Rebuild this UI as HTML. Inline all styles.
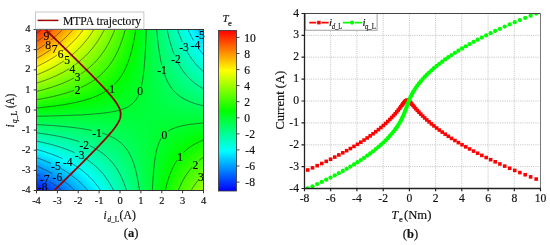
<!DOCTYPE html><html><head><meta charset="utf-8"><style>html,body{margin:0;padding:0;background:#fff;width:550px;height:245px;overflow:hidden}svg{display:block}text{stroke:#111;stroke-width:0.18px}</style></head><body><svg width="550" height="245" viewBox="0 0 550 245"><defs><linearGradient id="r29" gradientUnits="userSpaceOnUse" x1="36.5" x2="203.5" y1="0" y2="0"><stop offset="0.0000" stop-color="#ff1500"/><stop offset="0.2878" stop-color="#ffff00"/><stop offset="0.6013" stop-color="#00ff00"/><stop offset="0.9147" stop-color="#00ffff"/><stop offset="1.0000" stop-color="#00baff"/></linearGradient><linearGradient id="r30" gradientUnits="userSpaceOnUse" x1="36.5" x2="203.5" y1="0" y2="0"><stop offset="0.0000" stop-color="#ff1b00"/><stop offset="0.2835" stop-color="#ffff00"/><stop offset="0.6004" stop-color="#00ff00"/><stop offset="0.9174" stop-color="#00ffff"/><stop offset="1.0000" stop-color="#00bdff"/></linearGradient><linearGradient id="r31" gradientUnits="userSpaceOnUse" x1="36.5" x2="203.5" y1="0" y2="0"><stop offset="0.0000" stop-color="#ff2100"/><stop offset="0.2790" stop-color="#ffff00"/><stop offset="0.5996" stop-color="#00ff00"/><stop offset="0.9202" stop-color="#00ffff"/><stop offset="1.0000" stop-color="#00c0ff"/></linearGradient><linearGradient id="r32" gradientUnits="userSpaceOnUse" x1="36.5" x2="203.5" y1="0" y2="0"><stop offset="0.0000" stop-color="#ff2700"/><stop offset="0.2744" stop-color="#ffff00"/><stop offset="0.5987" stop-color="#00ff00"/><stop offset="0.9231" stop-color="#00ffff"/><stop offset="1.0000" stop-color="#00c3ff"/></linearGradient><linearGradient id="r33" gradientUnits="userSpaceOnUse" x1="36.5" x2="203.5" y1="0" y2="0"><stop offset="0.0000" stop-color="#ff2d00"/><stop offset="0.2697" stop-color="#ffff00"/><stop offset="0.5979" stop-color="#00ff00"/><stop offset="0.9260" stop-color="#00ffff"/><stop offset="1.0000" stop-color="#00c6ff"/></linearGradient><linearGradient id="r34" gradientUnits="userSpaceOnUse" x1="36.5" x2="203.5" y1="0" y2="0"><stop offset="0.0000" stop-color="#ff3400"/><stop offset="0.2649" stop-color="#ffff00"/><stop offset="0.5970" stop-color="#00ff00"/><stop offset="0.9290" stop-color="#00ffff"/><stop offset="1.0000" stop-color="#00c9ff"/></linearGradient><linearGradient id="r35" gradientUnits="userSpaceOnUse" x1="36.5" x2="203.5" y1="0" y2="0"><stop offset="0.0000" stop-color="#ff3a00"/><stop offset="0.2600" stop-color="#ffff00"/><stop offset="0.5960" stop-color="#00ff00"/><stop offset="0.9321" stop-color="#00ffff"/><stop offset="1.0000" stop-color="#00cbff"/></linearGradient><linearGradient id="r36" gradientUnits="userSpaceOnUse" x1="36.5" x2="203.5" y1="0" y2="0"><stop offset="0.0000" stop-color="#ff4000"/><stop offset="0.2549" stop-color="#ffff00"/><stop offset="0.5951" stop-color="#00ff00"/><stop offset="0.9353" stop-color="#00ffff"/><stop offset="1.0000" stop-color="#00ceff"/></linearGradient><linearGradient id="r37" gradientUnits="userSpaceOnUse" x1="36.5" x2="203.5" y1="0" y2="0"><stop offset="0.0000" stop-color="#ff4600"/><stop offset="0.2497" stop-color="#ffff00"/><stop offset="0.5941" stop-color="#00ff00"/><stop offset="0.9385" stop-color="#00ffff"/><stop offset="1.0000" stop-color="#00d1ff"/></linearGradient><linearGradient id="r38" gradientUnits="userSpaceOnUse" x1="36.5" x2="203.5" y1="0" y2="0"><stop offset="0.0000" stop-color="#ff4c00"/><stop offset="0.2444" stop-color="#ffff00"/><stop offset="0.5931" stop-color="#00ff00"/><stop offset="0.9418" stop-color="#00ffff"/><stop offset="1.0000" stop-color="#00d4ff"/></linearGradient><linearGradient id="r39" gradientUnits="userSpaceOnUse" x1="36.5" x2="203.5" y1="0" y2="0"><stop offset="0.0000" stop-color="#ff5200"/><stop offset="0.2390" stop-color="#ffff00"/><stop offset="0.5921" stop-color="#00ff00"/><stop offset="0.9452" stop-color="#00ffff"/><stop offset="1.0000" stop-color="#00d7ff"/></linearGradient><linearGradient id="r40" gradientUnits="userSpaceOnUse" x1="36.5" x2="203.5" y1="0" y2="0"><stop offset="0.0000" stop-color="#ff5900"/><stop offset="0.2334" stop-color="#ffff00"/><stop offset="0.5911" stop-color="#00ff00"/><stop offset="0.9487" stop-color="#00ffff"/><stop offset="1.0000" stop-color="#00daff"/></linearGradient><linearGradient id="r41" gradientUnits="userSpaceOnUse" x1="36.5" x2="203.5" y1="0" y2="0"><stop offset="0.0000" stop-color="#ff5f00"/><stop offset="0.2277" stop-color="#ffff00"/><stop offset="0.5900" stop-color="#00ff00"/><stop offset="0.9523" stop-color="#00ffff"/><stop offset="1.0000" stop-color="#00ddff"/></linearGradient><linearGradient id="r42" gradientUnits="userSpaceOnUse" x1="36.5" x2="203.5" y1="0" y2="0"><stop offset="0.0000" stop-color="#ff6500"/><stop offset="0.2218" stop-color="#ffff00"/><stop offset="0.5889" stop-color="#00ff00"/><stop offset="0.9560" stop-color="#00ffff"/><stop offset="1.0000" stop-color="#00e0ff"/></linearGradient><linearGradient id="r43" gradientUnits="userSpaceOnUse" x1="36.5" x2="203.5" y1="0" y2="0"><stop offset="0.0000" stop-color="#ff6b00"/><stop offset="0.2158" stop-color="#ffff00"/><stop offset="0.5878" stop-color="#00ff00"/><stop offset="0.9597" stop-color="#00ffff"/><stop offset="1.0000" stop-color="#00e3ff"/></linearGradient><linearGradient id="r44" gradientUnits="userSpaceOnUse" x1="36.5" x2="203.5" y1="0" y2="0"><stop offset="0.0000" stop-color="#ff7100"/><stop offset="0.2096" stop-color="#ffff00"/><stop offset="0.5866" stop-color="#00ff00"/><stop offset="0.9636" stop-color="#00ffff"/><stop offset="1.0000" stop-color="#00e6ff"/></linearGradient><linearGradient id="r45" gradientUnits="userSpaceOnUse" x1="36.5" x2="203.5" y1="0" y2="0"><stop offset="0.0000" stop-color="#ff7700"/><stop offset="0.2033" stop-color="#ffff00"/><stop offset="0.5854" stop-color="#00ff00"/><stop offset="0.9676" stop-color="#00ffff"/><stop offset="1.0000" stop-color="#00e9ff"/></linearGradient><linearGradient id="r46" gradientUnits="userSpaceOnUse" x1="36.5" x2="203.5" y1="0" y2="0"><stop offset="0.0000" stop-color="#ff7e00"/><stop offset="0.1967" stop-color="#ffff00"/><stop offset="0.5842" stop-color="#00ff00"/><stop offset="0.9717" stop-color="#00ffff"/><stop offset="1.0000" stop-color="#00ecff"/></linearGradient><linearGradient id="r47" gradientUnits="userSpaceOnUse" x1="36.5" x2="203.5" y1="0" y2="0"><stop offset="0.0000" stop-color="#ff8400"/><stop offset="0.1900" stop-color="#ffff00"/><stop offset="0.5829" stop-color="#00ff00"/><stop offset="0.9759" stop-color="#00ffff"/><stop offset="1.0000" stop-color="#00efff"/></linearGradient><linearGradient id="r48" gradientUnits="userSpaceOnUse" x1="36.5" x2="203.5" y1="0" y2="0"><stop offset="0.0000" stop-color="#ff8a00"/><stop offset="0.1831" stop-color="#ffff00"/><stop offset="0.5817" stop-color="#00ff00"/><stop offset="0.9802" stop-color="#00ffff"/><stop offset="1.0000" stop-color="#00f2ff"/></linearGradient><linearGradient id="r49" gradientUnits="userSpaceOnUse" x1="36.5" x2="203.5" y1="0" y2="0"><stop offset="0.0000" stop-color="#ff9000"/><stop offset="0.1760" stop-color="#ffff00"/><stop offset="0.5803" stop-color="#00ff00"/><stop offset="0.9846" stop-color="#00ffff"/><stop offset="1.0000" stop-color="#00f5ff"/></linearGradient><linearGradient id="r50" gradientUnits="userSpaceOnUse" x1="36.5" x2="203.5" y1="0" y2="0"><stop offset="0.0000" stop-color="#ff9600"/><stop offset="0.1687" stop-color="#ffff00"/><stop offset="0.5790" stop-color="#00ff00"/><stop offset="0.9892" stop-color="#00ffff"/><stop offset="1.0000" stop-color="#00f8ff"/></linearGradient><linearGradient id="r51" gradientUnits="userSpaceOnUse" x1="36.5" x2="203.5" y1="0" y2="0"><stop offset="0.0000" stop-color="#ff9c00"/><stop offset="0.1611" stop-color="#ffff00"/><stop offset="0.5775" stop-color="#00ff00"/><stop offset="0.9939" stop-color="#00ffff"/><stop offset="1.0000" stop-color="#00fbff"/></linearGradient><linearGradient id="r52" gradientUnits="userSpaceOnUse" x1="36.5" x2="203.5" y1="0" y2="0"><stop offset="0.0000" stop-color="#ffa200"/><stop offset="0.1534" stop-color="#ffff00"/><stop offset="0.5761" stop-color="#00ff00"/><stop offset="0.9988" stop-color="#00ffff"/><stop offset="1.0000" stop-color="#00feff"/></linearGradient><linearGradient id="r53" gradientUnits="userSpaceOnUse" x1="36.5" x2="203.5" y1="0" y2="0"><stop offset="0.0000" stop-color="#ffa900"/><stop offset="0.1454" stop-color="#ffff00"/><stop offset="0.5746" stop-color="#00ff00"/><stop offset="1.0000" stop-color="#00fffd"/></linearGradient><linearGradient id="r54" gradientUnits="userSpaceOnUse" x1="36.5" x2="203.5" y1="0" y2="0"><stop offset="0.0000" stop-color="#ffaf00"/><stop offset="0.1371" stop-color="#ffff00"/><stop offset="0.5730" stop-color="#00ff00"/><stop offset="1.0000" stop-color="#00fffa"/></linearGradient><linearGradient id="r55" gradientUnits="userSpaceOnUse" x1="36.5" x2="203.5" y1="0" y2="0"><stop offset="0.0000" stop-color="#ffb500"/><stop offset="0.1286" stop-color="#ffff00"/><stop offset="0.5714" stop-color="#00ff00"/><stop offset="1.0000" stop-color="#00fff7"/></linearGradient><linearGradient id="r56" gradientUnits="userSpaceOnUse" x1="36.5" x2="203.5" y1="0" y2="0"><stop offset="0.0000" stop-color="#ffbb00"/><stop offset="0.1198" stop-color="#ffff00"/><stop offset="0.5698" stop-color="#00ff00"/><stop offset="1.0000" stop-color="#00fff4"/></linearGradient><linearGradient id="r57" gradientUnits="userSpaceOnUse" x1="36.5" x2="203.5" y1="0" y2="0"><stop offset="0.0000" stop-color="#ffc100"/><stop offset="0.1107" stop-color="#ffff00"/><stop offset="0.5681" stop-color="#00ff00"/><stop offset="1.0000" stop-color="#00fff1"/></linearGradient><linearGradient id="r58" gradientUnits="userSpaceOnUse" x1="36.5" x2="203.5" y1="0" y2="0"><stop offset="0.0000" stop-color="#ffc700"/><stop offset="0.1013" stop-color="#ffff00"/><stop offset="0.5663" stop-color="#00ff00"/><stop offset="1.0000" stop-color="#00ffee"/></linearGradient><linearGradient id="r59" gradientUnits="userSpaceOnUse" x1="36.5" x2="203.5" y1="0" y2="0"><stop offset="0.0000" stop-color="#ffce00"/><stop offset="0.0916" stop-color="#ffff00"/><stop offset="0.5645" stop-color="#00ff00"/><stop offset="1.0000" stop-color="#00ffeb"/></linearGradient><linearGradient id="r60" gradientUnits="userSpaceOnUse" x1="36.5" x2="203.5" y1="0" y2="0"><stop offset="0.0000" stop-color="#ffd400"/><stop offset="0.0816" stop-color="#ffff00"/><stop offset="0.5626" stop-color="#00ff00"/><stop offset="1.0000" stop-color="#00ffe8"/></linearGradient><linearGradient id="r61" gradientUnits="userSpaceOnUse" x1="36.5" x2="203.5" y1="0" y2="0"><stop offset="0.0000" stop-color="#ffda00"/><stop offset="0.0712" stop-color="#ffff00"/><stop offset="0.5607" stop-color="#00ff00"/><stop offset="1.0000" stop-color="#00ffe5"/></linearGradient><linearGradient id="r62" gradientUnits="userSpaceOnUse" x1="36.5" x2="203.5" y1="0" y2="0"><stop offset="0.0000" stop-color="#ffe000"/><stop offset="0.0604" stop-color="#ffff00"/><stop offset="0.5587" stop-color="#00ff00"/><stop offset="1.0000" stop-color="#00ffe2"/></linearGradient><linearGradient id="r63" gradientUnits="userSpaceOnUse" x1="36.5" x2="203.5" y1="0" y2="0"><stop offset="0.0000" stop-color="#ffe600"/><stop offset="0.0493" stop-color="#ffff00"/><stop offset="0.5566" stop-color="#00ff00"/><stop offset="1.0000" stop-color="#00ffdf"/></linearGradient><linearGradient id="r64" gradientUnits="userSpaceOnUse" x1="36.5" x2="203.5" y1="0" y2="0"><stop offset="0.0000" stop-color="#ffec00"/><stop offset="0.0377" stop-color="#ffff00"/><stop offset="0.5544" stop-color="#00ff00"/><stop offset="1.0000" stop-color="#00ffdc"/></linearGradient><linearGradient id="r65" gradientUnits="userSpaceOnUse" x1="36.5" x2="203.5" y1="0" y2="0"><stop offset="0.0000" stop-color="#fff300"/><stop offset="0.0257" stop-color="#ffff00"/><stop offset="0.5522" stop-color="#00ff00"/><stop offset="1.0000" stop-color="#00ffd9"/></linearGradient><linearGradient id="r66" gradientUnits="userSpaceOnUse" x1="36.5" x2="203.5" y1="0" y2="0"><stop offset="0.0000" stop-color="#fff900"/><stop offset="0.0132" stop-color="#ffff00"/><stop offset="0.5499" stop-color="#00ff00"/><stop offset="1.0000" stop-color="#00ffd6"/></linearGradient><linearGradient id="r67" gradientUnits="userSpaceOnUse" x1="36.5" x2="203.5" y1="0" y2="0"><stop offset="0.0000" stop-color="#ffff00"/><stop offset="0.0003" stop-color="#ffff00"/><stop offset="0.5474" stop-color="#00ff00"/><stop offset="1.0000" stop-color="#00ffd3"/></linearGradient><linearGradient id="r68" gradientUnits="userSpaceOnUse" x1="36.5" x2="203.5" y1="0" y2="0"><stop offset="0.0000" stop-color="#f9ff00"/><stop offset="0.5449" stop-color="#00ff00"/><stop offset="1.0000" stop-color="#00ffd0"/></linearGradient><linearGradient id="r69" gradientUnits="userSpaceOnUse" x1="36.5" x2="203.5" y1="0" y2="0"><stop offset="0.0000" stop-color="#f3ff00"/><stop offset="0.5423" stop-color="#00ff00"/><stop offset="1.0000" stop-color="#00ffcd"/></linearGradient><linearGradient id="r70" gradientUnits="userSpaceOnUse" x1="36.5" x2="203.5" y1="0" y2="0"><stop offset="0.0000" stop-color="#edff00"/><stop offset="0.5395" stop-color="#00ff00"/><stop offset="1.0000" stop-color="#00ffca"/></linearGradient><linearGradient id="r71" gradientUnits="userSpaceOnUse" x1="36.5" x2="203.5" y1="0" y2="0"><stop offset="0.0000" stop-color="#e6ff00"/><stop offset="0.5367" stop-color="#00ff00"/><stop offset="1.0000" stop-color="#00ffc7"/></linearGradient><linearGradient id="r72" gradientUnits="userSpaceOnUse" x1="36.5" x2="203.5" y1="0" y2="0"><stop offset="0.0000" stop-color="#e0ff00"/><stop offset="0.5337" stop-color="#00ff00"/><stop offset="1.0000" stop-color="#00ffc4"/></linearGradient><linearGradient id="r73" gradientUnits="userSpaceOnUse" x1="36.5" x2="203.5" y1="0" y2="0"><stop offset="0.0000" stop-color="#daff00"/><stop offset="0.5306" stop-color="#00ff00"/><stop offset="1.0000" stop-color="#00ffc1"/></linearGradient><linearGradient id="r74" gradientUnits="userSpaceOnUse" x1="36.5" x2="203.5" y1="0" y2="0"><stop offset="0.0000" stop-color="#d4ff00"/><stop offset="0.5274" stop-color="#00ff00"/><stop offset="1.0000" stop-color="#00ffbe"/></linearGradient><linearGradient id="r75" gradientUnits="userSpaceOnUse" x1="36.5" x2="203.5" y1="0" y2="0"><stop offset="0.0000" stop-color="#ceff00"/><stop offset="0.5240" stop-color="#00ff00"/><stop offset="1.0000" stop-color="#00ffbb"/></linearGradient><linearGradient id="r76" gradientUnits="userSpaceOnUse" x1="36.5" x2="203.5" y1="0" y2="0"><stop offset="0.0000" stop-color="#c8ff00"/><stop offset="0.5204" stop-color="#00ff00"/><stop offset="1.0000" stop-color="#00ffb8"/></linearGradient><linearGradient id="r77" gradientUnits="userSpaceOnUse" x1="36.5" x2="203.5" y1="0" y2="0"><stop offset="0.0000" stop-color="#c2ff00"/><stop offset="0.5167" stop-color="#00ff00"/><stop offset="1.0000" stop-color="#00ffb5"/></linearGradient><linearGradient id="r78" gradientUnits="userSpaceOnUse" x1="36.5" x2="203.5" y1="0" y2="0"><stop offset="0.0000" stop-color="#bbff00"/><stop offset="0.5127" stop-color="#00ff00"/><stop offset="1.0000" stop-color="#00ffb2"/></linearGradient><linearGradient id="r79" gradientUnits="userSpaceOnUse" x1="36.5" x2="203.5" y1="0" y2="0"><stop offset="0.0000" stop-color="#b5ff00"/><stop offset="0.5086" stop-color="#00ff00"/><stop offset="1.0000" stop-color="#00ffaf"/></linearGradient><linearGradient id="r80" gradientUnits="userSpaceOnUse" x1="36.5" x2="203.5" y1="0" y2="0"><stop offset="0.0000" stop-color="#afff00"/><stop offset="0.5043" stop-color="#00ff00"/><stop offset="1.0000" stop-color="#00ffac"/></linearGradient><linearGradient id="r81" gradientUnits="userSpaceOnUse" x1="36.5" x2="203.5" y1="0" y2="0"><stop offset="0.0000" stop-color="#a9ff00"/><stop offset="0.4997" stop-color="#00ff00"/><stop offset="1.0000" stop-color="#00ffa9"/></linearGradient><linearGradient id="r82" gradientUnits="userSpaceOnUse" x1="36.5" x2="203.5" y1="0" y2="0"><stop offset="0.0000" stop-color="#a3ff00"/><stop offset="0.4949" stop-color="#00ff00"/><stop offset="1.0000" stop-color="#00ffa6"/></linearGradient><linearGradient id="r83" gradientUnits="userSpaceOnUse" x1="36.5" x2="203.5" y1="0" y2="0"><stop offset="0.0000" stop-color="#9dff00"/><stop offset="0.4897" stop-color="#00ff00"/><stop offset="1.0000" stop-color="#00ffa3"/></linearGradient><linearGradient id="r84" gradientUnits="userSpaceOnUse" x1="36.5" x2="203.5" y1="0" y2="0"><stop offset="0.0000" stop-color="#96ff00"/><stop offset="0.4843" stop-color="#00ff00"/><stop offset="1.0000" stop-color="#00ffa0"/></linearGradient><linearGradient id="r85" gradientUnits="userSpaceOnUse" x1="36.5" x2="203.5" y1="0" y2="0"><stop offset="0.0000" stop-color="#90ff00"/><stop offset="0.4786" stop-color="#00ff00"/><stop offset="1.0000" stop-color="#00ff9d"/></linearGradient><linearGradient id="r86" gradientUnits="userSpaceOnUse" x1="36.5" x2="203.5" y1="0" y2="0"><stop offset="0.0000" stop-color="#8aff00"/><stop offset="0.4725" stop-color="#00ff00"/><stop offset="1.0000" stop-color="#00ff9a"/></linearGradient><linearGradient id="r87" gradientUnits="userSpaceOnUse" x1="36.5" x2="203.5" y1="0" y2="0"><stop offset="0.0000" stop-color="#84ff00"/><stop offset="0.4660" stop-color="#00ff00"/><stop offset="1.0000" stop-color="#00ff97"/></linearGradient><linearGradient id="r88" gradientUnits="userSpaceOnUse" x1="36.5" x2="203.5" y1="0" y2="0"><stop offset="0.0000" stop-color="#7eff00"/><stop offset="0.4591" stop-color="#00ff00"/><stop offset="1.0000" stop-color="#00ff94"/></linearGradient><linearGradient id="r89" gradientUnits="userSpaceOnUse" x1="36.5" x2="203.5" y1="0" y2="0"><stop offset="0.0000" stop-color="#78ff00"/><stop offset="0.4517" stop-color="#00ff00"/><stop offset="1.0000" stop-color="#00ff91"/></linearGradient><linearGradient id="r90" gradientUnits="userSpaceOnUse" x1="36.5" x2="203.5" y1="0" y2="0"><stop offset="0.0000" stop-color="#71ff00"/><stop offset="0.4438" stop-color="#00ff00"/><stop offset="1.0000" stop-color="#00ff8e"/></linearGradient><linearGradient id="r91" gradientUnits="userSpaceOnUse" x1="36.5" x2="203.5" y1="0" y2="0"><stop offset="0.0000" stop-color="#6bff00"/><stop offset="0.4352" stop-color="#00ff00"/><stop offset="1.0000" stop-color="#00ff8b"/></linearGradient><linearGradient id="r92" gradientUnits="userSpaceOnUse" x1="36.5" x2="203.5" y1="0" y2="0"><stop offset="0.0000" stop-color="#65ff00"/><stop offset="0.4261" stop-color="#00ff00"/><stop offset="1.0000" stop-color="#00ff88"/></linearGradient><linearGradient id="r93" gradientUnits="userSpaceOnUse" x1="36.5" x2="203.5" y1="0" y2="0"><stop offset="0.0000" stop-color="#5fff00"/><stop offset="0.4161" stop-color="#00ff00"/><stop offset="1.0000" stop-color="#00ff85"/></linearGradient><linearGradient id="r94" gradientUnits="userSpaceOnUse" x1="36.5" x2="203.5" y1="0" y2="0"><stop offset="0.0000" stop-color="#59ff00"/><stop offset="0.4054" stop-color="#00ff00"/><stop offset="1.0000" stop-color="#00ff82"/></linearGradient><linearGradient id="r95" gradientUnits="userSpaceOnUse" x1="36.5" x2="203.5" y1="0" y2="0"><stop offset="0.0000" stop-color="#53ff00"/><stop offset="0.3937" stop-color="#00ff00"/><stop offset="1.0000" stop-color="#00ff7f"/></linearGradient><linearGradient id="r96" gradientUnits="userSpaceOnUse" x1="36.5" x2="203.5" y1="0" y2="0"><stop offset="0.0000" stop-color="#4dff00"/><stop offset="0.3810" stop-color="#00ff00"/><stop offset="1.0000" stop-color="#00ff7c"/></linearGradient><linearGradient id="r97" gradientUnits="userSpaceOnUse" x1="36.5" x2="203.5" y1="0" y2="0"><stop offset="0.0000" stop-color="#46ff00"/><stop offset="0.3670" stop-color="#00ff00"/><stop offset="1.0000" stop-color="#00ff79"/></linearGradient><linearGradient id="r98" gradientUnits="userSpaceOnUse" x1="36.5" x2="203.5" y1="0" y2="0"><stop offset="0.0000" stop-color="#40ff00"/><stop offset="0.3517" stop-color="#00ff00"/><stop offset="1.0000" stop-color="#00ff76"/></linearGradient><linearGradient id="r99" gradientUnits="userSpaceOnUse" x1="36.5" x2="203.5" y1="0" y2="0"><stop offset="0.0000" stop-color="#3aff00"/><stop offset="0.3347" stop-color="#00ff00"/><stop offset="1.0000" stop-color="#00ff73"/></linearGradient><linearGradient id="r100" gradientUnits="userSpaceOnUse" x1="36.5" x2="203.5" y1="0" y2="0"><stop offset="0.0000" stop-color="#34ff00"/><stop offset="0.3158" stop-color="#00ff00"/><stop offset="1.0000" stop-color="#00ff70"/></linearGradient><linearGradient id="r101" gradientUnits="userSpaceOnUse" x1="36.5" x2="203.5" y1="0" y2="0"><stop offset="0.0000" stop-color="#2eff00"/><stop offset="0.2947" stop-color="#00ff00"/><stop offset="1.0000" stop-color="#00ff6d"/></linearGradient><linearGradient id="r102" gradientUnits="userSpaceOnUse" x1="36.5" x2="203.5" y1="0" y2="0"><stop offset="0.0000" stop-color="#28ff00"/><stop offset="0.2710" stop-color="#00ff00"/><stop offset="1.0000" stop-color="#00ff6a"/></linearGradient><linearGradient id="r103" gradientUnits="userSpaceOnUse" x1="36.5" x2="203.5" y1="0" y2="0"><stop offset="0.0000" stop-color="#21ff00"/><stop offset="0.2441" stop-color="#00ff00"/><stop offset="1.0000" stop-color="#00ff67"/></linearGradient><linearGradient id="r104" gradientUnits="userSpaceOnUse" x1="36.5" x2="203.5" y1="0" y2="0"><stop offset="0.0000" stop-color="#1bff00"/><stop offset="0.2133" stop-color="#00ff00"/><stop offset="1.0000" stop-color="#00ff64"/></linearGradient><linearGradient id="r105" gradientUnits="userSpaceOnUse" x1="36.5" x2="203.5" y1="0" y2="0"><stop offset="0.0000" stop-color="#15ff00"/><stop offset="0.1778" stop-color="#00ff00"/><stop offset="1.0000" stop-color="#00ff61"/></linearGradient><linearGradient id="r106" gradientUnits="userSpaceOnUse" x1="36.5" x2="203.5" y1="0" y2="0"><stop offset="0.0000" stop-color="#0fff00"/><stop offset="0.1363" stop-color="#00ff00"/><stop offset="1.0000" stop-color="#00ff5e"/></linearGradient><linearGradient id="r107" gradientUnits="userSpaceOnUse" x1="36.5" x2="203.5" y1="0" y2="0"><stop offset="0.0000" stop-color="#09ff00"/><stop offset="0.0873" stop-color="#00ff00"/><stop offset="1.0000" stop-color="#00ff5b"/></linearGradient><linearGradient id="r108" gradientUnits="userSpaceOnUse" x1="36.5" x2="203.5" y1="0" y2="0"><stop offset="0.0000" stop-color="#03ff00"/><stop offset="0.0284" stop-color="#00ff00"/><stop offset="1.0000" stop-color="#00ff58"/></linearGradient><linearGradient id="r109" gradientUnits="userSpaceOnUse" x1="36.5" x2="203.5" y1="0" y2="0"><stop offset="0.0000" stop-color="#00ff04"/><stop offset="1.0000" stop-color="#00ff55"/></linearGradient><linearGradient id="r110" gradientUnits="userSpaceOnUse" x1="36.5" x2="203.5" y1="0" y2="0"><stop offset="0.0000" stop-color="#00ff0a"/><stop offset="1.0000" stop-color="#00ff52"/></linearGradient><linearGradient id="r111" gradientUnits="userSpaceOnUse" x1="36.5" x2="203.5" y1="0" y2="0"><stop offset="0.0000" stop-color="#00ff10"/><stop offset="1.0000" stop-color="#00ff4f"/></linearGradient><linearGradient id="r112" gradientUnits="userSpaceOnUse" x1="36.5" x2="203.5" y1="0" y2="0"><stop offset="0.0000" stop-color="#00ff16"/><stop offset="1.0000" stop-color="#00ff4d"/></linearGradient><linearGradient id="r113" gradientUnits="userSpaceOnUse" x1="36.5" x2="203.5" y1="0" y2="0"><stop offset="0.0000" stop-color="#00ff1c"/><stop offset="1.0000" stop-color="#00ff4a"/></linearGradient><linearGradient id="r114" gradientUnits="userSpaceOnUse" x1="36.5" x2="203.5" y1="0" y2="0"><stop offset="0.0000" stop-color="#00ff22"/><stop offset="1.0000" stop-color="#00ff47"/></linearGradient><linearGradient id="r115" gradientUnits="userSpaceOnUse" x1="36.5" x2="203.5" y1="0" y2="0"><stop offset="0.0000" stop-color="#00ff29"/><stop offset="1.0000" stop-color="#00ff44"/></linearGradient><linearGradient id="r116" gradientUnits="userSpaceOnUse" x1="36.5" x2="203.5" y1="0" y2="0"><stop offset="0.0000" stop-color="#00ff2f"/><stop offset="1.0000" stop-color="#00ff41"/></linearGradient><linearGradient id="r117" gradientUnits="userSpaceOnUse" x1="36.5" x2="203.5" y1="0" y2="0"><stop offset="0.0000" stop-color="#00ff35"/><stop offset="1.0000" stop-color="#00ff3e"/></linearGradient><linearGradient id="r118" gradientUnits="userSpaceOnUse" x1="36.5" x2="203.5" y1="0" y2="0"><stop offset="0.0000" stop-color="#00ff3b"/><stop offset="1.0000" stop-color="#00ff3b"/></linearGradient><linearGradient id="r119" gradientUnits="userSpaceOnUse" x1="36.5" x2="203.5" y1="0" y2="0"><stop offset="0.0000" stop-color="#00ff41"/><stop offset="1.0000" stop-color="#00ff38"/></linearGradient><linearGradient id="r120" gradientUnits="userSpaceOnUse" x1="36.5" x2="203.5" y1="0" y2="0"><stop offset="0.0000" stop-color="#00ff47"/><stop offset="1.0000" stop-color="#00ff35"/></linearGradient><linearGradient id="r121" gradientUnits="userSpaceOnUse" x1="36.5" x2="203.5" y1="0" y2="0"><stop offset="0.0000" stop-color="#00ff4d"/><stop offset="1.0000" stop-color="#00ff32"/></linearGradient><linearGradient id="r122" gradientUnits="userSpaceOnUse" x1="36.5" x2="203.5" y1="0" y2="0"><stop offset="0.0000" stop-color="#00ff54"/><stop offset="1.0000" stop-color="#00ff2f"/></linearGradient><linearGradient id="r123" gradientUnits="userSpaceOnUse" x1="36.5" x2="203.5" y1="0" y2="0"><stop offset="0.0000" stop-color="#00ff5a"/><stop offset="1.0000" stop-color="#00ff2c"/></linearGradient><linearGradient id="r124" gradientUnits="userSpaceOnUse" x1="36.5" x2="203.5" y1="0" y2="0"><stop offset="0.0000" stop-color="#00ff60"/><stop offset="1.0000" stop-color="#00ff29"/></linearGradient><linearGradient id="r125" gradientUnits="userSpaceOnUse" x1="36.5" x2="203.5" y1="0" y2="0"><stop offset="0.0000" stop-color="#00ff66"/><stop offset="1.0000" stop-color="#00ff26"/></linearGradient><linearGradient id="r126" gradientUnits="userSpaceOnUse" x1="36.5" x2="203.5" y1="0" y2="0"><stop offset="0.0000" stop-color="#00ff6c"/><stop offset="1.0000" stop-color="#00ff23"/></linearGradient><linearGradient id="r127" gradientUnits="userSpaceOnUse" x1="36.5" x2="203.5" y1="0" y2="0"><stop offset="0.0000" stop-color="#00ff72"/><stop offset="1.0000" stop-color="#00ff20"/></linearGradient><linearGradient id="r128" gradientUnits="userSpaceOnUse" x1="36.5" x2="203.5" y1="0" y2="0"><stop offset="0.0000" stop-color="#00ff79"/><stop offset="1.0000" stop-color="#00ff1d"/></linearGradient><linearGradient id="r129" gradientUnits="userSpaceOnUse" x1="36.5" x2="203.5" y1="0" y2="0"><stop offset="0.0000" stop-color="#00ff7f"/><stop offset="1.0000" stop-color="#00ff1a"/></linearGradient><linearGradient id="r130" gradientUnits="userSpaceOnUse" x1="36.5" x2="203.5" y1="0" y2="0"><stop offset="0.0000" stop-color="#00ff85"/><stop offset="1.0000" stop-color="#00ff17"/></linearGradient><linearGradient id="r131" gradientUnits="userSpaceOnUse" x1="36.5" x2="203.5" y1="0" y2="0"><stop offset="0.0000" stop-color="#00ff8b"/><stop offset="1.0000" stop-color="#00ff14"/></linearGradient><linearGradient id="r132" gradientUnits="userSpaceOnUse" x1="36.5" x2="203.5" y1="0" y2="0"><stop offset="0.0000" stop-color="#00ff91"/><stop offset="1.0000" stop-color="#00ff11"/></linearGradient><linearGradient id="r133" gradientUnits="userSpaceOnUse" x1="36.5" x2="203.5" y1="0" y2="0"><stop offset="0.0000" stop-color="#00ff97"/><stop offset="1.0000" stop-color="#00ff0e"/></linearGradient><linearGradient id="r134" gradientUnits="userSpaceOnUse" x1="36.5" x2="203.5" y1="0" y2="0"><stop offset="0.0000" stop-color="#00ff9e"/><stop offset="1.0000" stop-color="#00ff0b"/></linearGradient><linearGradient id="r135" gradientUnits="userSpaceOnUse" x1="36.5" x2="203.5" y1="0" y2="0"><stop offset="0.0000" stop-color="#00ffa4"/><stop offset="1.0000" stop-color="#00ff08"/></linearGradient><linearGradient id="r136" gradientUnits="userSpaceOnUse" x1="36.5" x2="203.5" y1="0" y2="0"><stop offset="0.0000" stop-color="#00ffaa"/><stop offset="1.0000" stop-color="#00ff05"/></linearGradient><linearGradient id="r137" gradientUnits="userSpaceOnUse" x1="36.5" x2="203.5" y1="0" y2="0"><stop offset="0.0000" stop-color="#00ffb0"/><stop offset="1.0000" stop-color="#00ff02"/></linearGradient><linearGradient id="r138" gradientUnits="userSpaceOnUse" x1="36.5" x2="203.5" y1="0" y2="0"><stop offset="0.0000" stop-color="#00ffb6"/><stop offset="0.9937" stop-color="#00ff00"/><stop offset="1.0000" stop-color="#01ff00"/></linearGradient><linearGradient id="r139" gradientUnits="userSpaceOnUse" x1="36.5" x2="203.5" y1="0" y2="0"><stop offset="0.0000" stop-color="#00ffbc"/><stop offset="0.9785" stop-color="#00ff00"/><stop offset="1.0000" stop-color="#04ff00"/></linearGradient><linearGradient id="r140" gradientUnits="userSpaceOnUse" x1="36.5" x2="203.5" y1="0" y2="0"><stop offset="0.0000" stop-color="#00ffc3"/><stop offset="0.9647" stop-color="#00ff00"/><stop offset="1.0000" stop-color="#07ff00"/></linearGradient><linearGradient id="r141" gradientUnits="userSpaceOnUse" x1="36.5" x2="203.5" y1="0" y2="0"><stop offset="0.0000" stop-color="#00ffc9"/><stop offset="0.9520" stop-color="#00ff00"/><stop offset="1.0000" stop-color="#0aff00"/></linearGradient><linearGradient id="r142" gradientUnits="userSpaceOnUse" x1="36.5" x2="203.5" y1="0" y2="0"><stop offset="0.0000" stop-color="#00ffcf"/><stop offset="0.9404" stop-color="#00ff00"/><stop offset="1.0000" stop-color="#0dff00"/></linearGradient><linearGradient id="r143" gradientUnits="userSpaceOnUse" x1="36.5" x2="203.5" y1="0" y2="0"><stop offset="0.0000" stop-color="#00ffd5"/><stop offset="0.9298" stop-color="#00ff00"/><stop offset="1.0000" stop-color="#10ff00"/></linearGradient><linearGradient id="r144" gradientUnits="userSpaceOnUse" x1="36.5" x2="203.5" y1="0" y2="0"><stop offset="0.0000" stop-color="#00ffdb"/><stop offset="0.9199" stop-color="#00ff00"/><stop offset="1.0000" stop-color="#13ff00"/></linearGradient><linearGradient id="r145" gradientUnits="userSpaceOnUse" x1="36.5" x2="203.5" y1="0" y2="0"><stop offset="0.0000" stop-color="#00ffe1"/><stop offset="0.9108" stop-color="#00ff00"/><stop offset="1.0000" stop-color="#16ff00"/></linearGradient><linearGradient id="r146" gradientUnits="userSpaceOnUse" x1="36.5" x2="203.5" y1="0" y2="0"><stop offset="0.0000" stop-color="#00ffe7"/><stop offset="0.9024" stop-color="#00ff00"/><stop offset="1.0000" stop-color="#19ff00"/></linearGradient><linearGradient id="r147" gradientUnits="userSpaceOnUse" x1="36.5" x2="203.5" y1="0" y2="0"><stop offset="0.0000" stop-color="#00ffee"/><stop offset="0.8945" stop-color="#00ff00"/><stop offset="1.0000" stop-color="#1cff00"/></linearGradient><linearGradient id="r148" gradientUnits="userSpaceOnUse" x1="36.5" x2="203.5" y1="0" y2="0"><stop offset="0.0000" stop-color="#00fff4"/><stop offset="0.8871" stop-color="#00ff00"/><stop offset="1.0000" stop-color="#1fff00"/></linearGradient><linearGradient id="r149" gradientUnits="userSpaceOnUse" x1="36.5" x2="203.5" y1="0" y2="0"><stop offset="0.0000" stop-color="#00fffa"/><stop offset="0.8802" stop-color="#00ff00"/><stop offset="1.0000" stop-color="#22ff00"/></linearGradient><linearGradient id="r150" gradientUnits="userSpaceOnUse" x1="36.5" x2="203.5" y1="0" y2="0"><stop offset="0.0000" stop-color="#00feff"/><stop offset="0.0038" stop-color="#00ffff"/><stop offset="0.8738" stop-color="#00ff00"/><stop offset="1.0000" stop-color="#25ff00"/></linearGradient><linearGradient id="r151" gradientUnits="userSpaceOnUse" x1="36.5" x2="203.5" y1="0" y2="0"><stop offset="0.0000" stop-color="#00f8ff"/><stop offset="0.0241" stop-color="#00ffff"/><stop offset="0.8677" stop-color="#00ff00"/><stop offset="1.0000" stop-color="#28ff00"/></linearGradient><linearGradient id="r152" gradientUnits="userSpaceOnUse" x1="36.5" x2="203.5" y1="0" y2="0"><stop offset="0.0000" stop-color="#00f2ff"/><stop offset="0.0432" stop-color="#00ffff"/><stop offset="0.8620" stop-color="#00ff00"/><stop offset="1.0000" stop-color="#2bff00"/></linearGradient><linearGradient id="r153" gradientUnits="userSpaceOnUse" x1="36.5" x2="203.5" y1="0" y2="0"><stop offset="0.0000" stop-color="#00ebff"/><stop offset="0.0611" stop-color="#00ffff"/><stop offset="0.8566" stop-color="#00ff00"/><stop offset="1.0000" stop-color="#2eff00"/></linearGradient><linearGradient id="r154" gradientUnits="userSpaceOnUse" x1="36.5" x2="203.5" y1="0" y2="0"><stop offset="0.0000" stop-color="#00e5ff"/><stop offset="0.0781" stop-color="#00ffff"/><stop offset="0.8515" stop-color="#00ff00"/><stop offset="1.0000" stop-color="#31ff00"/></linearGradient><linearGradient id="r155" gradientUnits="userSpaceOnUse" x1="36.5" x2="203.5" y1="0" y2="0"><stop offset="0.0000" stop-color="#00dfff"/><stop offset="0.0942" stop-color="#00ffff"/><stop offset="0.8467" stop-color="#00ff00"/><stop offset="1.0000" stop-color="#34ff00"/></linearGradient><linearGradient id="r156" gradientUnits="userSpaceOnUse" x1="36.5" x2="203.5" y1="0" y2="0"><stop offset="0.0000" stop-color="#00d9ff"/><stop offset="0.1094" stop-color="#00ffff"/><stop offset="0.8422" stop-color="#00ff00"/><stop offset="1.0000" stop-color="#37ff00"/></linearGradient><linearGradient id="r157" gradientUnits="userSpaceOnUse" x1="36.5" x2="203.5" y1="0" y2="0"><stop offset="0.0000" stop-color="#00d3ff"/><stop offset="0.1239" stop-color="#00ffff"/><stop offset="0.8379" stop-color="#00ff00"/><stop offset="1.0000" stop-color="#3aff00"/></linearGradient><linearGradient id="r158" gradientUnits="userSpaceOnUse" x1="36.5" x2="203.5" y1="0" y2="0"><stop offset="0.0000" stop-color="#00cdff"/><stop offset="0.1376" stop-color="#00ffff"/><stop offset="0.8338" stop-color="#00ff00"/><stop offset="1.0000" stop-color="#3dff00"/></linearGradient><linearGradient id="r159" gradientUnits="userSpaceOnUse" x1="36.5" x2="203.5" y1="0" y2="0"><stop offset="0.0000" stop-color="#00c6ff"/><stop offset="0.1506" stop-color="#00ffff"/><stop offset="0.8299" stop-color="#00ff00"/><stop offset="1.0000" stop-color="#40ff00"/></linearGradient><linearGradient id="r160" gradientUnits="userSpaceOnUse" x1="36.5" x2="203.5" y1="0" y2="0"><stop offset="0.0000" stop-color="#00c0ff"/><stop offset="0.1631" stop-color="#00ffff"/><stop offset="0.8261" stop-color="#00ff00"/><stop offset="1.0000" stop-color="#43ff00"/></linearGradient><linearGradient id="r161" gradientUnits="userSpaceOnUse" x1="36.5" x2="203.5" y1="0" y2="0"><stop offset="0.0000" stop-color="#00baff"/><stop offset="0.1749" stop-color="#00ffff"/><stop offset="0.8226" stop-color="#00ff00"/><stop offset="1.0000" stop-color="#46ff00"/></linearGradient><linearGradient id="r162" gradientUnits="userSpaceOnUse" x1="36.5" x2="203.5" y1="0" y2="0"><stop offset="0.0000" stop-color="#00b4ff"/><stop offset="0.1863" stop-color="#00ffff"/><stop offset="0.8192" stop-color="#00ff00"/><stop offset="1.0000" stop-color="#49ff00"/></linearGradient><linearGradient id="r163" gradientUnits="userSpaceOnUse" x1="36.5" x2="203.5" y1="0" y2="0"><stop offset="0.0000" stop-color="#00aeff"/><stop offset="0.1971" stop-color="#00ffff"/><stop offset="0.8160" stop-color="#00ff00"/><stop offset="1.0000" stop-color="#4cff00"/></linearGradient><linearGradient id="r164" gradientUnits="userSpaceOnUse" x1="36.5" x2="203.5" y1="0" y2="0"><stop offset="0.0000" stop-color="#00a8ff"/><stop offset="0.2074" stop-color="#00ffff"/><stop offset="0.8129" stop-color="#00ff00"/><stop offset="1.0000" stop-color="#4fff00"/></linearGradient><linearGradient id="r165" gradientUnits="userSpaceOnUse" x1="36.5" x2="203.5" y1="0" y2="0"><stop offset="0.0000" stop-color="#00a1ff"/><stop offset="0.2173" stop-color="#00ffff"/><stop offset="0.8099" stop-color="#00ff00"/><stop offset="1.0000" stop-color="#52ff00"/></linearGradient><linearGradient id="r166" gradientUnits="userSpaceOnUse" x1="36.5" x2="203.5" y1="0" y2="0"><stop offset="0.0000" stop-color="#009bff"/><stop offset="0.2268" stop-color="#00ffff"/><stop offset="0.8071" stop-color="#00ff00"/><stop offset="1.0000" stop-color="#55ff00"/></linearGradient><linearGradient id="r167" gradientUnits="userSpaceOnUse" x1="36.5" x2="203.5" y1="0" y2="0"><stop offset="0.0000" stop-color="#0095ff"/><stop offset="0.2359" stop-color="#00ffff"/><stop offset="0.8043" stop-color="#00ff00"/><stop offset="1.0000" stop-color="#58ff00"/></linearGradient><linearGradient id="r168" gradientUnits="userSpaceOnUse" x1="36.5" x2="203.5" y1="0" y2="0"><stop offset="0.0000" stop-color="#008fff"/><stop offset="0.2447" stop-color="#00ffff"/><stop offset="0.8017" stop-color="#00ff00"/><stop offset="1.0000" stop-color="#5bff00"/></linearGradient><linearGradient id="r169" gradientUnits="userSpaceOnUse" x1="36.5" x2="203.5" y1="0" y2="0"><stop offset="0.0000" stop-color="#0089ff"/><stop offset="0.2531" stop-color="#00ffff"/><stop offset="0.7992" stop-color="#00ff00"/><stop offset="1.0000" stop-color="#5eff00"/></linearGradient><linearGradient id="r170" gradientUnits="userSpaceOnUse" x1="36.5" x2="203.5" y1="0" y2="0"><stop offset="0.0000" stop-color="#0083ff"/><stop offset="0.2611" stop-color="#00ffff"/><stop offset="0.7968" stop-color="#00ff00"/><stop offset="1.0000" stop-color="#61ff00"/></linearGradient><linearGradient id="r171" gradientUnits="userSpaceOnUse" x1="36.5" x2="203.5" y1="0" y2="0"><stop offset="0.0000" stop-color="#007dff"/><stop offset="0.2689" stop-color="#00ffff"/><stop offset="0.7945" stop-color="#00ff00"/><stop offset="1.0000" stop-color="#64ff00"/></linearGradient><linearGradient id="r172" gradientUnits="userSpaceOnUse" x1="36.5" x2="203.5" y1="0" y2="0"><stop offset="0.0000" stop-color="#0076ff"/><stop offset="0.2764" stop-color="#00ffff"/><stop offset="0.7922" stop-color="#00ff00"/><stop offset="1.0000" stop-color="#67ff00"/></linearGradient><linearGradient id="r173" gradientUnits="userSpaceOnUse" x1="36.5" x2="203.5" y1="0" y2="0"><stop offset="0.0000" stop-color="#0070ff"/><stop offset="0.2836" stop-color="#00ffff"/><stop offset="0.7901" stop-color="#00ff00"/><stop offset="1.0000" stop-color="#6aff00"/></linearGradient><linearGradient id="r174" gradientUnits="userSpaceOnUse" x1="36.5" x2="203.5" y1="0" y2="0"><stop offset="0.0000" stop-color="#006aff"/><stop offset="0.2906" stop-color="#00ffff"/><stop offset="0.7880" stop-color="#00ff00"/><stop offset="1.0000" stop-color="#6dff00"/></linearGradient><linearGradient id="r175" gradientUnits="userSpaceOnUse" x1="36.5" x2="203.5" y1="0" y2="0"><stop offset="0.0000" stop-color="#0064ff"/><stop offset="0.2973" stop-color="#00ffff"/><stop offset="0.7860" stop-color="#00ff00"/><stop offset="1.0000" stop-color="#70ff00"/></linearGradient><linearGradient id="r176" gradientUnits="userSpaceOnUse" x1="36.5" x2="203.5" y1="0" y2="0"><stop offset="0.0000" stop-color="#005eff"/><stop offset="0.3038" stop-color="#00ffff"/><stop offset="0.7840" stop-color="#00ff00"/><stop offset="1.0000" stop-color="#73ff00"/></linearGradient><linearGradient id="r177" gradientUnits="userSpaceOnUse" x1="36.5" x2="203.5" y1="0" y2="0"><stop offset="0.0000" stop-color="#0058ff"/><stop offset="0.3100" stop-color="#00ffff"/><stop offset="0.7822" stop-color="#00ff00"/><stop offset="1.0000" stop-color="#76ff00"/></linearGradient><linearGradient id="r178" gradientUnits="userSpaceOnUse" x1="36.5" x2="203.5" y1="0" y2="0"><stop offset="0.0000" stop-color="#0051ff"/><stop offset="0.3161" stop-color="#00ffff"/><stop offset="0.7804" stop-color="#00ff00"/><stop offset="1.0000" stop-color="#79ff00"/></linearGradient><linearGradient id="r179" gradientUnits="userSpaceOnUse" x1="36.5" x2="203.5" y1="0" y2="0"><stop offset="0.0000" stop-color="#004bff"/><stop offset="0.3219" stop-color="#00ffff"/><stop offset="0.7786" stop-color="#00ff00"/><stop offset="1.0000" stop-color="#7cff00"/></linearGradient><linearGradient id="r180" gradientUnits="userSpaceOnUse" x1="36.5" x2="203.5" y1="0" y2="0"><stop offset="0.0000" stop-color="#0045ff"/><stop offset="0.3276" stop-color="#00ffff"/><stop offset="0.7769" stop-color="#00ff00"/><stop offset="1.0000" stop-color="#7fff00"/></linearGradient><linearGradient id="r181" gradientUnits="userSpaceOnUse" x1="36.5" x2="203.5" y1="0" y2="0"><stop offset="0.0000" stop-color="#003fff"/><stop offset="0.3331" stop-color="#00ffff"/><stop offset="0.7753" stop-color="#00ff00"/><stop offset="1.0000" stop-color="#82ff00"/></linearGradient><linearGradient id="r182" gradientUnits="userSpaceOnUse" x1="36.5" x2="203.5" y1="0" y2="0"><stop offset="0.0000" stop-color="#0039ff"/><stop offset="0.3384" stop-color="#00ffff"/><stop offset="0.7737" stop-color="#00ff00"/><stop offset="1.0000" stop-color="#85ff00"/></linearGradient><linearGradient id="r183" gradientUnits="userSpaceOnUse" x1="36.5" x2="203.5" y1="0" y2="0"><stop offset="0.0000" stop-color="#0033ff"/><stop offset="0.3435" stop-color="#00ffff"/><stop offset="0.7721" stop-color="#00ff00"/><stop offset="1.0000" stop-color="#88ff00"/></linearGradient><linearGradient id="r184" gradientUnits="userSpaceOnUse" x1="36.5" x2="203.5" y1="0" y2="0"><stop offset="0.0000" stop-color="#002cff"/><stop offset="0.3485" stop-color="#00ffff"/><stop offset="0.7706" stop-color="#00ff00"/><stop offset="1.0000" stop-color="#8bff00"/></linearGradient><linearGradient id="r185" gradientUnits="userSpaceOnUse" x1="36.5" x2="203.5" y1="0" y2="0"><stop offset="0.0000" stop-color="#0026ff"/><stop offset="0.3534" stop-color="#00ffff"/><stop offset="0.7692" stop-color="#00ff00"/><stop offset="1.0000" stop-color="#8eff00"/></linearGradient><linearGradient id="r186" gradientUnits="userSpaceOnUse" x1="36.5" x2="203.5" y1="0" y2="0"><stop offset="0.0000" stop-color="#0020ff"/><stop offset="0.3581" stop-color="#00ffff"/><stop offset="0.7678" stop-color="#00ff00"/><stop offset="1.0000" stop-color="#91ff00"/></linearGradient><linearGradient id="r187" gradientUnits="userSpaceOnUse" x1="36.5" x2="203.5" y1="0" y2="0"><stop offset="0.0000" stop-color="#001aff"/><stop offset="0.3627" stop-color="#00ffff"/><stop offset="0.7664" stop-color="#00ff00"/><stop offset="1.0000" stop-color="#94ff00"/></linearGradient><linearGradient id="r188" gradientUnits="userSpaceOnUse" x1="36.5" x2="203.5" y1="0" y2="0"><stop offset="0.0000" stop-color="#0014ff"/><stop offset="0.3671" stop-color="#00ffff"/><stop offset="0.7651" stop-color="#00ff00"/><stop offset="1.0000" stop-color="#97ff00"/></linearGradient><linearGradient id="r189" gradientUnits="userSpaceOnUse" x1="36.5" x2="203.5" y1="0" y2="0"><stop offset="0.0000" stop-color="#000eff"/><stop offset="0.3714" stop-color="#00ffff"/><stop offset="0.7638" stop-color="#00ff00"/><stop offset="1.0000" stop-color="#99ff00"/></linearGradient><linearGradient id="r190" gradientUnits="userSpaceOnUse" x1="36.5" x2="203.5" y1="0" y2="0"><stop offset="0.0000" stop-color="#0007ff"/><stop offset="0.3756" stop-color="#00ffff"/><stop offset="0.7625" stop-color="#00ff00"/><stop offset="1.0000" stop-color="#9cff00"/></linearGradient><linearGradient id="cbg" x1="0" y1="0" x2="0" y2="1"><stop offset="-0.0021" stop-color="#ff0000"/><stop offset="0.2486" stop-color="#ffff00"/><stop offset="0.4993" stop-color="#00ff00"/><stop offset="0.7500" stop-color="#00ffff"/><stop offset="1.0006" stop-color="#0000ff"/></linearGradient><mask id="lm" maskUnits="userSpaceOnUse" x="0" y="0" width="550" height="245"><rect x="0" y="0" width="550" height="245" fill="#fff"/><rect x="43.0" y="31.7" width="6.5" height="8.4" fill="#000"/><rect x="45.0" y="40.2" width="6.5" height="8.4" fill="#000"/><rect x="51.2" y="44.1" width="6.5" height="8.4" fill="#000"/><rect x="57.2" y="49.8" width="6.5" height="8.4" fill="#000"/><rect x="64.0" y="55.6" width="6.5" height="8.4" fill="#000"/><rect x="69.2" y="64.8" width="6.5" height="8.4" fill="#000"/><rect x="74.2" y="72.4" width="6.5" height="8.4" fill="#000"/><rect x="74.2" y="85.4" width="6.5" height="8.4" fill="#000"/><rect x="108.8" y="84.4" width="6.5" height="8.4" fill="#000"/><rect x="136.8" y="86.3" width="6.5" height="8.4" fill="#000"/><rect x="157.0" y="65.1" width="10.0" height="8.4" fill="#000"/><rect x="171.0" y="54.4" width="10.0" height="8.4" fill="#000"/><rect x="179.0" y="42.1" width="10.0" height="8.4" fill="#000"/><rect x="190.4" y="40.5" width="10.0" height="8.4" fill="#000"/><rect x="195.0" y="30.8" width="10.0" height="8.4" fill="#000"/><rect x="161.2" y="130.3" width="6.5" height="8.4" fill="#000"/><rect x="92.0" y="128.8" width="10.0" height="8.4" fill="#000"/><rect x="79.3" y="140.1" width="10.0" height="8.4" fill="#000"/><rect x="74.6" y="150.3" width="10.0" height="8.4" fill="#000"/><rect x="62.6" y="157.2" width="10.0" height="8.4" fill="#000"/><rect x="50.9" y="161.6" width="10.0" height="8.4" fill="#000"/><rect x="52.4" y="172.0" width="10.0" height="8.4" fill="#000"/><rect x="39.8" y="174.0" width="10.0" height="8.4" fill="#000"/><rect x="37.6" y="181.9" width="10.0" height="8.4" fill="#000"/><rect x="176.8" y="152.1" width="6.5" height="8.4" fill="#000"/><rect x="192.2" y="160.1" width="6.5" height="8.4" fill="#000"/><rect x="197.7" y="172.8" width="6.5" height="8.4" fill="#000"/></mask><clipPath id="lc"><rect x="36.5" y="29.5" width="167.0" height="161.0"/></clipPath><clipPath id="rc"><rect x="304.5" y="13.5" width="236.0" height="175.0"/></clipPath></defs><rect width="550" height="245" fill="#fff"/><g shape-rendering="crispEdges"><rect x="36.5" y="29" width="167.0" height="1" fill="url(#r29)"/><rect x="36.5" y="30" width="167.0" height="1" fill="url(#r30)"/><rect x="36.5" y="31" width="167.0" height="1" fill="url(#r31)"/><rect x="36.5" y="32" width="167.0" height="1" fill="url(#r32)"/><rect x="36.5" y="33" width="167.0" height="1" fill="url(#r33)"/><rect x="36.5" y="34" width="167.0" height="1" fill="url(#r34)"/><rect x="36.5" y="35" width="167.0" height="1" fill="url(#r35)"/><rect x="36.5" y="36" width="167.0" height="1" fill="url(#r36)"/><rect x="36.5" y="37" width="167.0" height="1" fill="url(#r37)"/><rect x="36.5" y="38" width="167.0" height="1" fill="url(#r38)"/><rect x="36.5" y="39" width="167.0" height="1" fill="url(#r39)"/><rect x="36.5" y="40" width="167.0" height="1" fill="url(#r40)"/><rect x="36.5" y="41" width="167.0" height="1" fill="url(#r41)"/><rect x="36.5" y="42" width="167.0" height="1" fill="url(#r42)"/><rect x="36.5" y="43" width="167.0" height="1" fill="url(#r43)"/><rect x="36.5" y="44" width="167.0" height="1" fill="url(#r44)"/><rect x="36.5" y="45" width="167.0" height="1" fill="url(#r45)"/><rect x="36.5" y="46" width="167.0" height="1" fill="url(#r46)"/><rect x="36.5" y="47" width="167.0" height="1" fill="url(#r47)"/><rect x="36.5" y="48" width="167.0" height="1" fill="url(#r48)"/><rect x="36.5" y="49" width="167.0" height="1" fill="url(#r49)"/><rect x="36.5" y="50" width="167.0" height="1" fill="url(#r50)"/><rect x="36.5" y="51" width="167.0" height="1" fill="url(#r51)"/><rect x="36.5" y="52" width="167.0" height="1" fill="url(#r52)"/><rect x="36.5" y="53" width="167.0" height="1" fill="url(#r53)"/><rect x="36.5" y="54" width="167.0" height="1" fill="url(#r54)"/><rect x="36.5" y="55" width="167.0" height="1" fill="url(#r55)"/><rect x="36.5" y="56" width="167.0" height="1" fill="url(#r56)"/><rect x="36.5" y="57" width="167.0" height="1" fill="url(#r57)"/><rect x="36.5" y="58" width="167.0" height="1" fill="url(#r58)"/><rect x="36.5" y="59" width="167.0" height="1" fill="url(#r59)"/><rect x="36.5" y="60" width="167.0" height="1" fill="url(#r60)"/><rect x="36.5" y="61" width="167.0" height="1" fill="url(#r61)"/><rect x="36.5" y="62" width="167.0" height="1" fill="url(#r62)"/><rect x="36.5" y="63" width="167.0" height="1" fill="url(#r63)"/><rect x="36.5" y="64" width="167.0" height="1" fill="url(#r64)"/><rect x="36.5" y="65" width="167.0" height="1" fill="url(#r65)"/><rect x="36.5" y="66" width="167.0" height="1" fill="url(#r66)"/><rect x="36.5" y="67" width="167.0" height="1" fill="url(#r67)"/><rect x="36.5" y="68" width="167.0" height="1" fill="url(#r68)"/><rect x="36.5" y="69" width="167.0" height="1" fill="url(#r69)"/><rect x="36.5" y="70" width="167.0" height="1" fill="url(#r70)"/><rect x="36.5" y="71" width="167.0" height="1" fill="url(#r71)"/><rect x="36.5" y="72" width="167.0" height="1" fill="url(#r72)"/><rect x="36.5" y="73" width="167.0" height="1" fill="url(#r73)"/><rect x="36.5" y="74" width="167.0" height="1" fill="url(#r74)"/><rect x="36.5" y="75" width="167.0" height="1" fill="url(#r75)"/><rect x="36.5" y="76" width="167.0" height="1" fill="url(#r76)"/><rect x="36.5" y="77" width="167.0" height="1" fill="url(#r77)"/><rect x="36.5" y="78" width="167.0" height="1" fill="url(#r78)"/><rect x="36.5" y="79" width="167.0" height="1" fill="url(#r79)"/><rect x="36.5" y="80" width="167.0" height="1" fill="url(#r80)"/><rect x="36.5" y="81" width="167.0" height="1" fill="url(#r81)"/><rect x="36.5" y="82" width="167.0" height="1" fill="url(#r82)"/><rect x="36.5" y="83" width="167.0" height="1" fill="url(#r83)"/><rect x="36.5" y="84" width="167.0" height="1" fill="url(#r84)"/><rect x="36.5" y="85" width="167.0" height="1" fill="url(#r85)"/><rect x="36.5" y="86" width="167.0" height="1" fill="url(#r86)"/><rect x="36.5" y="87" width="167.0" height="1" fill="url(#r87)"/><rect x="36.5" y="88" width="167.0" height="1" fill="url(#r88)"/><rect x="36.5" y="89" width="167.0" height="1" fill="url(#r89)"/><rect x="36.5" y="90" width="167.0" height="1" fill="url(#r90)"/><rect x="36.5" y="91" width="167.0" height="1" fill="url(#r91)"/><rect x="36.5" y="92" width="167.0" height="1" fill="url(#r92)"/><rect x="36.5" y="93" width="167.0" height="1" fill="url(#r93)"/><rect x="36.5" y="94" width="167.0" height="1" fill="url(#r94)"/><rect x="36.5" y="95" width="167.0" height="1" fill="url(#r95)"/><rect x="36.5" y="96" width="167.0" height="1" fill="url(#r96)"/><rect x="36.5" y="97" width="167.0" height="1" fill="url(#r97)"/><rect x="36.5" y="98" width="167.0" height="1" fill="url(#r98)"/><rect x="36.5" y="99" width="167.0" height="1" fill="url(#r99)"/><rect x="36.5" y="100" width="167.0" height="1" fill="url(#r100)"/><rect x="36.5" y="101" width="167.0" height="1" fill="url(#r101)"/><rect x="36.5" y="102" width="167.0" height="1" fill="url(#r102)"/><rect x="36.5" y="103" width="167.0" height="1" fill="url(#r103)"/><rect x="36.5" y="104" width="167.0" height="1" fill="url(#r104)"/><rect x="36.5" y="105" width="167.0" height="1" fill="url(#r105)"/><rect x="36.5" y="106" width="167.0" height="1" fill="url(#r106)"/><rect x="36.5" y="107" width="167.0" height="1" fill="url(#r107)"/><rect x="36.5" y="108" width="167.0" height="1" fill="url(#r108)"/><rect x="36.5" y="109" width="167.0" height="1" fill="url(#r109)"/><rect x="36.5" y="110" width="167.0" height="1" fill="url(#r110)"/><rect x="36.5" y="111" width="167.0" height="1" fill="url(#r111)"/><rect x="36.5" y="112" width="167.0" height="1" fill="url(#r112)"/><rect x="36.5" y="113" width="167.0" height="1" fill="url(#r113)"/><rect x="36.5" y="114" width="167.0" height="1" fill="url(#r114)"/><rect x="36.5" y="115" width="167.0" height="1" fill="url(#r115)"/><rect x="36.5" y="116" width="167.0" height="1" fill="url(#r116)"/><rect x="36.5" y="117" width="167.0" height="1" fill="url(#r117)"/><rect x="36.5" y="118" width="167.0" height="1" fill="url(#r118)"/><rect x="36.5" y="119" width="167.0" height="1" fill="url(#r119)"/><rect x="36.5" y="120" width="167.0" height="1" fill="url(#r120)"/><rect x="36.5" y="121" width="167.0" height="1" fill="url(#r121)"/><rect x="36.5" y="122" width="167.0" height="1" fill="url(#r122)"/><rect x="36.5" y="123" width="167.0" height="1" fill="url(#r123)"/><rect x="36.5" y="124" width="167.0" height="1" fill="url(#r124)"/><rect x="36.5" y="125" width="167.0" height="1" fill="url(#r125)"/><rect x="36.5" y="126" width="167.0" height="1" fill="url(#r126)"/><rect x="36.5" y="127" width="167.0" height="1" fill="url(#r127)"/><rect x="36.5" y="128" width="167.0" height="1" fill="url(#r128)"/><rect x="36.5" y="129" width="167.0" height="1" fill="url(#r129)"/><rect x="36.5" y="130" width="167.0" height="1" fill="url(#r130)"/><rect x="36.5" y="131" width="167.0" height="1" fill="url(#r131)"/><rect x="36.5" y="132" width="167.0" height="1" fill="url(#r132)"/><rect x="36.5" y="133" width="167.0" height="1" fill="url(#r133)"/><rect x="36.5" y="134" width="167.0" height="1" fill="url(#r134)"/><rect x="36.5" y="135" width="167.0" height="1" fill="url(#r135)"/><rect x="36.5" y="136" width="167.0" height="1" fill="url(#r136)"/><rect x="36.5" y="137" width="167.0" height="1" fill="url(#r137)"/><rect x="36.5" y="138" width="167.0" height="1" fill="url(#r138)"/><rect x="36.5" y="139" width="167.0" height="1" fill="url(#r139)"/><rect x="36.5" y="140" width="167.0" height="1" fill="url(#r140)"/><rect x="36.5" y="141" width="167.0" height="1" fill="url(#r141)"/><rect x="36.5" y="142" width="167.0" height="1" fill="url(#r142)"/><rect x="36.5" y="143" width="167.0" height="1" fill="url(#r143)"/><rect x="36.5" y="144" width="167.0" height="1" fill="url(#r144)"/><rect x="36.5" y="145" width="167.0" height="1" fill="url(#r145)"/><rect x="36.5" y="146" width="167.0" height="1" fill="url(#r146)"/><rect x="36.5" y="147" width="167.0" height="1" fill="url(#r147)"/><rect x="36.5" y="148" width="167.0" height="1" fill="url(#r148)"/><rect x="36.5" y="149" width="167.0" height="1" fill="url(#r149)"/><rect x="36.5" y="150" width="167.0" height="1" fill="url(#r150)"/><rect x="36.5" y="151" width="167.0" height="1" fill="url(#r151)"/><rect x="36.5" y="152" width="167.0" height="1" fill="url(#r152)"/><rect x="36.5" y="153" width="167.0" height="1" fill="url(#r153)"/><rect x="36.5" y="154" width="167.0" height="1" fill="url(#r154)"/><rect x="36.5" y="155" width="167.0" height="1" fill="url(#r155)"/><rect x="36.5" y="156" width="167.0" height="1" fill="url(#r156)"/><rect x="36.5" y="157" width="167.0" height="1" fill="url(#r157)"/><rect x="36.5" y="158" width="167.0" height="1" fill="url(#r158)"/><rect x="36.5" y="159" width="167.0" height="1" fill="url(#r159)"/><rect x="36.5" y="160" width="167.0" height="1" fill="url(#r160)"/><rect x="36.5" y="161" width="167.0" height="1" fill="url(#r161)"/><rect x="36.5" y="162" width="167.0" height="1" fill="url(#r162)"/><rect x="36.5" y="163" width="167.0" height="1" fill="url(#r163)"/><rect x="36.5" y="164" width="167.0" height="1" fill="url(#r164)"/><rect x="36.5" y="165" width="167.0" height="1" fill="url(#r165)"/><rect x="36.5" y="166" width="167.0" height="1" fill="url(#r166)"/><rect x="36.5" y="167" width="167.0" height="1" fill="url(#r167)"/><rect x="36.5" y="168" width="167.0" height="1" fill="url(#r168)"/><rect x="36.5" y="169" width="167.0" height="1" fill="url(#r169)"/><rect x="36.5" y="170" width="167.0" height="1" fill="url(#r170)"/><rect x="36.5" y="171" width="167.0" height="1" fill="url(#r171)"/><rect x="36.5" y="172" width="167.0" height="1" fill="url(#r172)"/><rect x="36.5" y="173" width="167.0" height="1" fill="url(#r173)"/><rect x="36.5" y="174" width="167.0" height="1" fill="url(#r174)"/><rect x="36.5" y="175" width="167.0" height="1" fill="url(#r175)"/><rect x="36.5" y="176" width="167.0" height="1" fill="url(#r176)"/><rect x="36.5" y="177" width="167.0" height="1" fill="url(#r177)"/><rect x="36.5" y="178" width="167.0" height="1" fill="url(#r178)"/><rect x="36.5" y="179" width="167.0" height="1" fill="url(#r179)"/><rect x="36.5" y="180" width="167.0" height="1" fill="url(#r180)"/><rect x="36.5" y="181" width="167.0" height="1" fill="url(#r181)"/><rect x="36.5" y="182" width="167.0" height="1" fill="url(#r182)"/><rect x="36.5" y="183" width="167.0" height="1" fill="url(#r183)"/><rect x="36.5" y="184" width="167.0" height="1" fill="url(#r184)"/><rect x="36.5" y="185" width="167.0" height="1" fill="url(#r185)"/><rect x="36.5" y="186" width="167.0" height="1" fill="url(#r186)"/><rect x="36.5" y="187" width="167.0" height="1" fill="url(#r187)"/><rect x="36.5" y="188" width="167.0" height="1" fill="url(#r188)"/><rect x="36.5" y="189" width="167.0" height="1" fill="url(#r189)"/><rect x="36.5" y="190" width="167.0" height="1" fill="url(#r190)"/></g><g clip-path="url(#lc)"><g mask="url(#lm)" fill="none" stroke="#222" stroke-width="0.8" stroke-opacity="0.75"><path d="M32.32 188.14 32.87 188.46 33.41 188.79 33.96 189.13 34.5 189.46 35.05 189.8 35.59 190.15 36.14 190.49 36.68 190.84 37.23 191.19 37.77 191.55 38.32 191.91 38.86 192.27 39.41 192.64 39.95 193.01 40.49 193.39 41.04 193.76 41.58 194.15 42.13 194.53 42.67 194.92 43.22 195.32 43.76 195.71 44.31 196.12 44.85 196.52"/><path d="M32.32 180.16 32.87 180.45 33.41 180.74 33.96 181.04 34.5 181.34 35.05 181.64 35.59 181.94 36.14 182.25 36.68 182.56 37.23 182.87 37.77 183.18 38.32 183.5 38.86 183.82 39.41 184.15 39.95 184.48 40.49 184.81 41.04 185.14 41.58 185.48 42.13 185.82 42.67 186.17 43.22 186.52 43.76 186.87 44.31 187.23 44.85 187.59 45.4 187.95 45.94 188.32 46.49 188.69 47.03 189.06 47.58 189.44 48.12 189.83 48.66 190.21 49.21 190.61 49.75 191 50.3 191.4 50.84 191.81 51.39 192.22 51.93 192.63 52.48 193.05 53.02 193.47 53.57 193.9 54.11 194.34 54.66 194.77 55.12 195.15 55.59 195.54 56.06 195.92 56.52 196.32 56.76 196.51"/><path d="M32.32 172.19 32.87 172.44 33.41 172.69 33.96 172.95 34.5 173.21 35.05 173.47 35.59 173.73 36.14 174 36.68 174.27 37.23 174.54 37.77 174.82 38.32 175.1 38.86 175.38 39.41 175.66 39.95 175.94 40.49 176.23 41.04 176.52 41.58 176.82 42.13 177.12 42.67 177.42 43.22 177.72 43.76 178.03 44.31 178.34 44.85 178.65 45.4 178.97 45.94 179.29 46.49 179.61 47.03 179.94 47.58 180.27 48.12 180.6 48.66 180.94 49.21 181.28 49.75 181.63 50.3 181.97 50.84 182.33 51.39 182.68 51.93 183.04 52.48 183.41 53.02 183.78 53.57 184.15 54.11 184.53 54.66 184.91 55.2 185.3 55.75 185.69 56.29 186.08 56.83 186.48 57.38 186.89 57.92 187.3 58.47 187.71 59.01 188.13 59.56 188.55 60.1 188.98 60.65 189.42 61.11 189.8 61.58 190.18 62.05 190.56 62.52 190.95 62.98 191.34 63.45 191.74 63.92 192.14 64.38 192.55 64.85 192.96 65.32 193.38 65.78 193.8 66.25 194.22 66.72 194.65 67.18 195.09 67.65 195.53 68.12 195.97 68.58 196.42 68.66 196.5"/><path d="M32.32 164.21 32.95 164.46 33.57 164.7 34.19 164.96 34.81 165.21 35.44 165.47 36.06 165.72 36.68 165.99 37.3 166.25 37.93 166.52 38.55 166.79 39.17 167.06 39.79 167.34 40.42 167.62 41.04 167.91 41.66 168.19 42.21 168.45 42.75 168.7 43.3 168.96 43.84 169.22 44.39 169.49 44.93 169.75 45.47 170.02 46.02 170.3 46.56 170.57 47.11 170.85 47.65 171.13 48.2 171.42 48.74 171.71 49.29 172 49.83 172.29 50.38 172.59 50.92 172.89 51.47 173.19 52.01 173.5 52.56 173.81 53.1 174.13 53.64 174.45 54.19 174.77 54.73 175.09 55.28 175.42 55.82 175.75 56.37 176.09 56.91 176.43 57.46 176.78 58 177.13 58.55 177.48 59.09 177.84 59.64 178.2 60.18 178.57 60.73 178.94 61.27 179.31 61.81 179.69 62.36 180.08 62.9 180.47 63.45 180.86 63.99 181.26 64.54 181.67 65.08 182.08 65.63 182.5 66.17 182.92 66.72 183.34 67.26 183.78 67.81 184.22 68.27 184.6 68.74 184.98 69.21 185.37 69.67 185.76 70.14 186.16 70.61 186.57 71.07 186.97 71.54 187.39 72.01 187.81 72.47 188.23 72.94 188.66 73.41 189.09 73.88 189.53 74.34 189.98 74.81 190.43 75.28 190.88 75.74 191.34 76.21 191.81 76.68 192.28 77.14 192.76 77.61 193.25 78.08 193.74 78.54 194.24 79.01 194.75 79.48 195.26 79.94 195.78 80.41 196.31 80.57 196.48"/><path d="M205.17 23.5 205.48 24.02 205.8 24.54 206.11 25.06 206.46 25.63 206.81 26.2 207.17 26.76 207.52 27.31 207.67 27.55"/><path d="M32.32 156.24 32.95 156.44 33.57 156.64 34.19 156.85 34.81 157.06 35.44 157.27 36.06 157.49 36.68 157.7 37.3 157.92 37.93 158.14 38.55 158.37 39.17 158.59 39.79 158.82 40.42 159.05 41.04 159.29 41.66 159.52 42.28 159.76 42.91 160.01 43.53 160.25 44.15 160.5 44.77 160.75 45.4 161 46.02 161.26 46.64 161.52 47.26 161.79 47.89 162.05 48.51 162.32 49.13 162.6 49.75 162.87 50.38 163.15 51 163.44 51.62 163.73 52.17 163.98 52.71 164.24 53.26 164.5 53.8 164.76 54.35 165.03 54.89 165.3 55.43 165.57 55.98 165.85 56.52 166.13 57.07 166.41 57.61 166.69 58.16 166.98 58.7 167.28 59.25 167.57 59.79 167.87 60.34 168.18 60.88 168.48 61.43 168.8 61.97 169.11 62.52 169.43 63.06 169.75 63.6 170.08 64.15 170.41 64.69 170.75 65.24 171.09 65.78 171.43 66.33 171.78 66.87 172.14 67.42 172.49 67.96 172.86 68.51 173.23 69.05 173.6 69.6 173.98 70.14 174.36 70.69 174.75 71.23 175.14 71.77 175.54 72.32 175.95 72.86 176.36 73.41 176.78 73.95 177.2 74.5 177.63 75.04 178.07 75.51 178.45 75.98 178.83 76.44 179.22 76.91 179.61 77.38 180.01 77.84 180.42 78.31 180.83 78.78 181.24 79.24 181.66 79.71 182.09 80.18 182.52 80.64 182.96 81.11 183.4 81.58 183.85 82.05 184.31 82.51 184.77 82.98 185.24 83.45 185.72 83.91 186.2 84.38 186.69 84.85 187.18 85.31 187.69 85.78 188.2 86.25 188.72 86.71 189.25 87.18 189.78 87.65 190.32 88.04 190.78 88.43 191.25 88.81 191.72 89.2 192.2 89.59 192.68 89.98 193.17 90.37 193.66 90.76 194.17 91.15 194.68 91.54 195.19 91.93 195.72 92.32 196.25 92.47 196.46"/><path d="M195.38 23.51 195.65 24.06 195.93 24.61 196.2 25.16 196.47 25.7 196.79 26.31 197.1 26.91 197.41 27.5 197.73 28.08 198.04 28.66 198.35 29.23 198.67 29.79 198.98 30.35 199.29 30.89 199.61 31.44 199.92 31.97 200.23 32.5 200.55 33.02 200.86 33.54 201.21 34.11 201.57 34.68 201.92 35.23 202.27 35.78 202.62 36.33 202.98 36.86 203.33 37.39 203.68 37.91 204.03 38.43 204.39 38.94 204.74 39.44 205.09 39.94 205.44 40.43 205.83 40.96 206.23 41.49 206.62 42.02 207.01 42.53 207.4 43.04 207.67 43.39"/><path d="M32.32 148.26 32.95 148.42 33.57 148.58 34.19 148.75 34.81 148.91 35.44 149.08 36.06 149.25 36.68 149.42 37.3 149.59 37.93 149.76 38.55 149.94 39.17 150.12 39.79 150.3 40.42 150.48 41.04 150.67 41.66 150.85 42.28 151.04 42.91 151.23 43.53 151.43 44.15 151.62 44.77 151.82 45.4 152.02 46.02 152.23 46.64 152.43 47.26 152.64 47.89 152.85 48.51 153.06 49.13 153.28 49.75 153.5 50.38 153.72 51 153.94 51.62 154.17 52.24 154.4 52.87 154.63 53.49 154.87 54.11 155.11 54.73 155.35 55.36 155.59 55.98 155.84 56.6 156.09 57.22 156.35 57.85 156.61 58.47 156.87 59.09 157.14 59.71 157.41 60.34 157.68 60.96 157.96 61.58 158.24 62.2 158.53 62.75 158.78 63.29 159.03 63.84 159.29 64.38 159.56 64.93 159.82 65.47 160.09 66.02 160.37 66.56 160.64 67.11 160.92 67.65 161.21 68.2 161.5 68.74 161.79 69.28 162.09 69.83 162.39 70.37 162.69 70.92 163 71.46 163.31 72.01 163.63 72.55 163.95 73.1 164.28 73.64 164.61 74.19 164.95 74.73 165.29 75.28 165.63 75.82 165.99 76.37 166.34 76.91 166.7 77.45 167.07 78 167.44 78.54 167.82 79.09 168.21 79.63 168.6 80.18 169 80.72 169.4 81.27 169.81 81.81 170.23 82.36 170.65 82.9 171.08 83.45 171.52 83.91 171.9 84.38 172.28 84.85 172.68 85.31 173.07 85.78 173.48 86.25 173.89 86.71 174.3 87.18 174.72 87.65 175.15 88.11 175.59 88.58 176.03 89.05 176.48 89.51 176.93 89.98 177.4 90.45 177.87 90.92 178.35 91.38 178.83 91.85 179.32 92.32 179.83 92.78 180.34 93.25 180.85 93.72 181.38 94.18 181.92 94.65 182.46 95.04 182.93 95.43 183.39 95.82 183.87 96.21 184.35 96.6 184.84 96.98 185.34 97.37 185.84 97.76 186.35 98.15 186.87 98.54 187.4 98.93 187.94 99.32 188.48 99.71 189.04 100.1 189.6 100.49 190.17 100.88 190.75 101.26 191.34 101.65 191.94 102.04 192.55 102.43 193.17 102.82 193.8 103.21 194.44 103.52 194.96 103.83 195.49 104.14 196.02 104.38 196.43"/><path d="M185.59 23.52 185.82 24.13 186.06 24.72 186.29 25.31 186.53 25.9 186.76 26.47 187 27.04 187.23 27.6 187.47 28.16 187.74 28.8 188.01 29.42 188.29 30.05 188.56 30.66 188.84 31.26 189.11 31.86 189.38 32.44 189.66 33.02 189.93 33.59 190.21 34.16 190.48 34.72 190.76 35.26 191.03 35.81 191.3 36.34 191.62 36.95 191.93 37.54 192.24 38.13 192.56 38.7 192.87 39.27 193.18 39.83 193.5 40.39 193.81 40.93 194.12 41.47 194.44 42 194.75 42.52 195.06 43.04 195.42 43.61 195.77 44.18 196.12 44.73 196.47 45.28 196.83 45.82 197.18 46.35 197.53 46.87 197.88 47.39 198.24 47.89 198.59 48.4 198.94 48.89 199.29 49.38 199.69 49.91 200.08 50.44 200.47 50.95 200.86 51.46 201.25 51.96 201.64 52.46 202.04 52.95 202.43 53.43 202.82 53.9 203.21 54.36 203.6 54.82 204.03 55.32 204.46 55.81 204.89 56.29 205.33 56.77 205.76 57.24 206.19 57.7 206.62 58.15 207.05 58.6 207.48 59.04 207.67 59.24"/><path d="M32.32 140.28 32.95 140.4 33.57 140.52 34.19 140.64 34.81 140.76 35.44 140.88 36.06 141.01 36.68 141.13 37.3 141.26 37.93 141.39 38.55 141.52 39.17 141.65 39.79 141.78 40.42 141.91 41.04 142.05 41.66 142.18 42.28 142.32 42.91 142.46 43.53 142.6 44.15 142.75 44.77 142.89 45.4 143.04 46.02 143.19 46.64 143.34 47.26 143.49 47.89 143.65 48.51 143.8 49.13 143.96 49.75 144.12 50.38 144.28 51 144.45 51.62 144.61 52.24 144.78 52.87 144.95 53.49 145.12 54.11 145.3 54.73 145.48 55.36 145.66 55.98 145.84 56.6 146.02 57.22 146.21 57.85 146.4 58.47 146.59 59.09 146.79 59.71 146.98 60.34 147.18 60.96 147.39 61.58 147.59 62.2 147.8 62.83 148.02 63.45 148.23 64.07 148.45 64.69 148.67 65.32 148.9 65.94 149.12 66.56 149.36 67.18 149.59 67.81 149.83 68.43 150.07 69.05 150.32 69.67 150.57 70.3 150.82 70.92 151.08 71.54 151.34 72.16 151.61 72.79 151.88 73.41 152.16 74.03 152.44 74.65 152.72 75.2 152.97 75.74 153.23 76.29 153.49 76.83 153.76 77.38 154.02 77.92 154.3 78.47 154.57 79.01 154.85 79.56 155.14 80.1 155.43 80.64 155.73 81.19 156.02 81.73 156.33 82.28 156.64 82.82 156.95 83.37 157.27 83.91 157.6 84.46 157.93 85 158.26 85.55 158.61 86.09 158.95 86.64 159.31 87.18 159.67 87.73 160.03 88.27 160.41 88.81 160.79 89.36 161.17 89.9 161.57 90.45 161.97 90.99 162.38 91.54 162.8 92.08 163.22 92.63 163.65 93.09 164.03 93.56 164.41 94.03 164.81 94.49 165.2 94.96 165.61 95.43 166.02 95.9 166.44 96.36 166.86 96.83 167.3 97.3 167.74 97.76 168.19 98.23 168.64 98.7 169.11 99.16 169.59 99.63 170.07 100.1 170.56 100.56 171.06 101.03 171.58 101.5 172.1 101.96 172.63 102.43 173.18 102.82 173.64 103.21 174.11 103.6 174.58 103.99 175.07 104.38 175.56 104.77 176.07 105.15 176.58 105.54 177.1 105.93 177.63 106.32 178.17 106.71 178.72 107.1 179.28 107.49 179.85 107.88 180.43 108.27 181.02 108.66 181.63 109.05 182.24 109.43 182.87 109.82 183.51 110.13 184.03 110.45 184.56 110.76 185.1 111.07 185.65 111.38 186.2 111.69 186.77 112 187.35 112.31 187.93 112.62 188.53 112.94 189.13 113.25 189.75 113.56 190.37 113.87 191.01 114.18 191.66 114.49 192.32 114.8 193 115.11 193.68 115.43 194.38 115.74 195.09 116.05 195.81 116.28 196.37"/><path d="M175.79 23.55 175.99 24.24 176.19 24.91 176.38 25.58 176.58 26.24 176.77 26.89 176.97 27.53 177.16 28.16 177.36 28.78 177.56 29.4 177.75 30 177.95 30.6 178.14 31.19 178.34 31.77 178.54 32.35 178.77 33.03 179.01 33.69 179.24 34.35 179.48 35 179.71 35.64 179.95 36.26 180.18 36.88 180.42 37.49 180.65 38.09 180.89 38.68 181.12 39.27 181.36 39.84 181.59 40.41 181.83 40.97 182.1 41.61 182.37 42.24 182.65 42.86 182.92 43.47 183.2 44.07 183.47 44.66 183.74 45.24 184.02 45.81 184.29 46.38 184.57 46.93 184.84 47.48 185.12 48.02 185.43 48.62 185.74 49.22 186.06 49.8 186.37 50.38 186.68 50.94 187 51.5 187.31 52.05 187.62 52.59 187.94 53.11 188.25 53.64 188.56 54.15 188.91 54.72 189.27 55.27 189.62 55.82 189.97 56.36 190.32 56.89 190.68 57.41 191.03 57.92 191.38 58.42 191.73 58.92 192.09 59.4 192.48 59.94 192.87 60.46 193.26 60.97 193.65 61.47 194.05 61.97 194.44 62.46 194.83 62.93 195.22 63.4 195.61 63.87 196.04 64.37 196.47 64.86 196.9 65.34 197.34 65.81 197.77 66.28 198.2 66.73 198.63 67.18 199.06 67.62 199.49 68.06 199.92 68.48 200.35 68.9 200.82 69.35 201.29 69.79 201.76 70.22 202.23 70.65 202.7 71.07 203.17 71.48 203.64 71.88 204.11 72.28 204.58 72.67 205.05 73.05 205.52 73.43 206.03 73.83 206.54 74.23 207.05 74.61 207.56 75 207.67 75.08"/><path d="M32.32 132.31 32.95 132.38 33.57 132.46 34.19 132.53 34.81 132.61 35.44 132.69 36.06 132.77 36.68 132.85 37.3 132.93 37.93 133.01 38.55 133.09 39.17 133.17 39.79 133.26 40.42 133.34 41.04 133.43 41.66 133.52 42.28 133.6 42.91 133.69 43.53 133.78 44.15 133.87 44.77 133.97 45.4 134.06 46.02 134.15 46.64 134.25 47.26 134.34 47.89 134.44 48.51 134.54 49.13 134.64 49.75 134.74 50.38 134.85 51 134.95 51.62 135.06 52.24 135.16 52.87 135.27 53.49 135.38 54.11 135.49 54.73 135.6 55.36 135.72 55.98 135.83 56.6 135.95 57.22 136.07 57.85 136.19 58.47 136.31 59.09 136.44 59.71 136.56 60.34 136.69 60.96 136.82 61.58 136.95 62.2 137.08 62.83 137.22 63.45 137.35 64.07 137.49 64.69 137.63 65.32 137.77 65.94 137.92 66.56 138.07 67.18 138.22 67.81 138.37 68.43 138.52 69.05 138.68 69.67 138.84 70.3 139 70.92 139.16 71.54 139.33 72.16 139.5 72.79 139.67 73.41 139.84 74.03 140.02 74.65 140.2 75.28 140.39 75.9 140.57 76.52 140.76 77.14 140.96 77.77 141.15 78.39 141.35 79.01 141.56 79.63 141.76 80.26 141.98 80.88 142.19 81.5 142.41 82.12 142.63 82.75 142.86 83.37 143.09 83.99 143.33 84.61 143.57 85.24 143.81 85.86 144.06 86.48 144.32 87.1 144.58 87.73 144.84 88.35 145.12 88.97 145.39 89.59 145.67 90.14 145.93 90.68 146.18 91.23 146.45 91.77 146.71 92.32 146.98 92.86 147.26 93.41 147.54 93.95 147.83 94.49 148.12 95.04 148.42 95.58 148.73 96.13 149.04 96.67 149.36 97.22 149.69 97.76 150.02 98.31 150.36 98.85 150.7 99.4 151.06 99.94 151.42 100.49 151.79 101.03 152.17 101.58 152.56 102.12 152.95 102.66 153.36 103.21 153.78 103.75 154.2 104.3 154.64 104.77 155.02 105.23 155.41 105.7 155.81 106.17 156.22 106.63 156.63 107.1 157.06 107.57 157.49 108.03 157.94 108.5 158.39 108.97 158.86 109.43 159.34 109.9 159.83 110.37 160.33 110.83 160.84 111.3 161.37 111.77 161.9 112.16 162.36 112.55 162.83 112.94 163.31 113.32 163.8 113.71 164.3 114.1 164.81 114.49 165.34 114.88 165.87 115.27 166.42 115.66 166.98 116.05 167.55 116.44 168.14 116.83 168.74 117.22 169.36 117.6 169.99 117.92 170.51 118.23 171.03 118.54 171.57 118.85 172.12 119.16 172.68 119.47 173.25 119.78 173.84 120.09 174.43 120.41 175.04 120.72 175.67 121.03 176.31 121.34 176.96 121.65 177.62 121.96 178.31 122.27 179 122.58 179.72 122.9 180.45 123.13 181.01 123.36 181.58 123.6 182.16 123.83 182.75 124.06 183.36 124.3 183.97 124.53 184.6 124.76 185.23 125 185.88 125.23 186.55 125.46 187.22 125.7 187.91 125.93 188.62 126.16 189.34 126.4 190.07 126.63 190.82 126.86 191.58 127.1 192.36 127.33 193.16 127.56 193.98 127.8 194.81 128.03 195.66 128.26 196.53"/><path d="M166 23.6 166.12 24.25 166.24 24.89 166.36 25.53 166.47 26.15 166.59 26.77 166.71 27.37 166.83 27.97 166.94 28.56 167.1 29.34 167.26 30.1 167.41 30.85 167.57 31.59 167.73 32.32 167.88 33.03 168.04 33.73 168.2 34.42 168.35 35.1 168.51 35.77 168.67 36.43 168.82 37.07 168.98 37.71 169.14 38.34 169.29 38.95 169.45 39.56 169.61 40.16 169.76 40.75 169.92 41.33 170.12 42.05 170.31 42.75 170.51 43.43 170.7 44.11 170.9 44.77 171.09 45.43 171.29 46.07 171.49 46.7 171.68 47.31 171.88 47.92 172.07 48.52 172.27 49.11 172.47 49.69 172.66 50.25 172.9 50.92 173.13 51.58 173.37 52.22 173.6 52.86 173.84 53.48 174.07 54.08 174.31 54.68 174.54 55.27 174.78 55.84 175.01 56.41 175.25 56.96 175.52 57.6 175.79 58.22 176.07 58.83 176.34 59.42 176.62 60.01 176.89 60.58 177.16 61.15 177.44 61.7 177.71 62.24 178.03 62.84 178.34 63.44 178.65 64.02 178.97 64.59 179.28 65.14 179.59 65.69 179.91 66.22 180.22 66.75 180.53 67.26 180.89 67.83 181.24 68.38 181.59 68.92 181.94 69.45 182.3 69.97 182.65 70.47 183 70.97 183.35 71.46 183.74 71.99 184.14 72.5 184.53 73.01 184.92 73.51 185.31 73.99 185.7 74.46 186.09 74.93 186.53 75.43 186.96 75.92 187.39 76.39 187.82 76.86 188.25 77.31 188.68 77.76 189.11 78.2 189.54 78.62 189.97 79.04 190.44 79.49 190.91 79.93 191.38 80.35 191.85 80.77 192.32 81.18 192.79 81.58 193.26 81.97 193.73 82.35 194.2 82.73 194.71 83.13 195.22 83.51 195.73 83.9 196.24 84.27 196.75 84.63 197.26 84.99 197.77 85.34 198.28 85.68 198.78 86.01 199.29 86.34 199.8 86.66 200.35 87 200.9 87.34 201.45 87.66 202 87.98 202.54 88.29 203.09 88.6 203.64 88.9 204.19 89.19 204.74 89.48 205.29 89.76 205.83 90.04 206.38 90.31 206.93 90.57 207.48 90.83 207.67 90.93"/><path d="M32.32 124.33 32.95 124.37 33.57 124.4 34.19 124.43 34.81 124.46 35.44 124.5 36.06 124.53 36.68 124.56 37.3 124.6 37.93 124.63 38.55 124.67 39.17 124.7 39.79 124.74 40.42 124.77 41.04 124.81 41.66 124.85 42.28 124.88 42.91 124.92 43.53 124.96 44.15 125 44.77 125.04 45.4 125.08 46.02 125.12 46.64 125.16 47.26 125.2 47.89 125.24 48.51 125.28 49.13 125.32 49.75 125.37 50.38 125.41 51 125.46 51.62 125.5 52.24 125.55 52.87 125.59 53.49 125.64 54.11 125.68 54.73 125.73 55.36 125.78 55.98 125.83 56.6 125.88 57.22 125.93 57.85 125.98 58.47 126.03 59.09 126.09 59.71 126.14 60.34 126.19 60.96 126.25 61.58 126.3 62.2 126.36 62.83 126.42 63.45 126.47 64.07 126.53 64.69 126.59 65.32 126.65 65.94 126.72 66.56 126.78 67.18 126.84 67.81 126.91 68.43 126.97 69.05 127.04 69.67 127.1 70.3 127.17 70.92 127.24 71.54 127.31 72.16 127.38 72.79 127.46 73.41 127.53 74.03 127.61 74.65 127.68 75.28 127.76 75.9 127.84 76.52 127.92 77.14 128 77.77 128.09 78.39 128.17 79.01 128.26 79.63 128.35 80.26 128.44 80.88 128.53 81.5 128.62 82.12 128.72 82.75 128.81 83.37 128.91 83.99 129.01 84.61 129.11 85.24 129.22 85.86 129.32 86.48 129.43 87.1 129.54 87.73 129.65 88.35 129.77 88.97 129.89 89.59 130.01 90.22 130.13 90.84 130.25 91.46 130.38 92.08 130.51 92.71 130.65 93.33 130.78 93.95 130.92 94.57 131.06 95.2 131.21 95.82 131.36 96.44 131.51 97.06 131.67 97.68 131.83 98.31 131.99 98.93 132.16 99.55 132.34 100.17 132.51 100.8 132.69 101.42 132.88 102.04 133.07 102.66 133.27 103.29 133.47 103.91 133.68 104.53 133.89 105.15 134.11 105.78 134.34 106.4 134.57 107.02 134.81 107.64 135.05 108.27 135.31 108.89 135.57 109.51 135.84 110.13 136.12 110.76 136.41 111.3 136.67 111.85 136.93 112.39 137.21 112.94 137.49 113.48 137.78 114.02 138.09 114.57 138.4 115.11 138.72 115.66 139.05 116.2 139.39 116.75 139.75 117.29 140.11 117.84 140.49 118.38 140.88 118.93 141.29 119.47 141.71 120.02 142.15 120.48 142.54 120.95 142.94 121.42 143.35 121.88 143.78 122.35 144.23 122.82 144.69 123.28 145.16 123.75 145.66 124.22 146.17 124.68 146.71 125.07 147.17 125.46 147.64 125.85 148.13 126.24 148.64 126.63 149.17 127.02 149.71 127.41 150.27 127.8 150.86 128.19 151.47 128.58 152.1 128.89 152.62 129.2 153.16 129.51 153.71 129.82 154.28 130.13 154.88 130.44 155.49 130.75 156.12 131.07 156.78 131.38 157.46 131.69 158.16 132 158.89 132.23 159.45 132.47 160.03 132.7 160.63 132.93 161.24 133.17 161.87 133.4 162.52 133.63 163.2 133.87 163.89 134.1 164.6 134.33 165.34 134.57 166.1 134.8 166.88 135.03 167.69 135.27 168.53 135.5 169.4 135.66 170 135.81 170.61 135.97 171.23 136.12 171.87 136.28 172.53 136.43 173.2 136.59 173.89 136.75 174.59 136.9 175.32 137.06 176.06 137.21 176.82 137.37 177.61 137.52 178.41 137.68 179.24 137.83 180.09 137.99 180.96 138.15 181.86 138.3 182.79 138.46 183.74 138.61 184.72 138.77 185.73 138.92 186.78 139.08 187.85 139.24 188.96 139.39 190.11 139.55 191.29 139.62 191.9 139.7 192.52 139.78 193.14 139.86 193.78 139.94 194.43 140.01 195.09 140.09 195.76 140.17 196.45"/><path d="M156.21 23.81 156.29 24.83 156.37 25.82 156.45 26.79 156.52 27.74 156.6 28.67 156.68 29.58 156.76 30.47 156.84 31.35 156.92 32.2 156.99 33.04 157.07 33.87 157.15 34.68 157.23 35.47 157.31 36.25 157.39 37.02 157.46 37.77 157.54 38.5 157.62 39.23 157.7 39.94 157.78 40.63 157.86 41.32 157.93 41.99 158.01 42.66 158.09 43.31 158.17 43.95 158.25 44.57 158.33 45.19 158.4 45.8 158.48 46.4 158.6 47.28 158.72 48.13 158.84 48.97 158.95 49.79 159.07 50.59 159.19 51.37 159.31 52.13 159.42 52.87 159.54 53.6 159.66 54.31 159.78 55.01 159.89 55.69 160.01 56.36 160.13 57.01 160.25 57.65 160.36 58.28 160.48 58.89 160.6 59.5 160.72 60.09 160.87 60.85 161.03 61.6 161.19 62.33 161.34 63.04 161.5 63.73 161.66 64.41 161.81 65.07 161.97 65.71 162.13 66.34 162.28 66.95 162.44 67.55 162.6 68.14 162.79 68.85 162.99 69.54 163.18 70.21 163.38 70.87 163.57 71.51 163.77 72.13 163.97 72.73 164.16 73.32 164.36 73.9 164.59 74.57 164.83 75.22 165.06 75.85 165.3 76.46 165.53 77.06 165.77 77.63 166 78.2 166.28 78.84 166.55 79.45 166.83 80.05 167.1 80.63 167.37 81.2 167.65 81.74 167.96 82.35 168.27 82.93 168.59 83.5 168.9 84.05 169.21 84.58 169.53 85.1 169.88 85.66 170.23 86.2 170.59 86.73 170.94 87.24 171.29 87.73 171.68 88.26 172.07 88.77 172.47 89.27 172.86 89.75 173.25 90.21 173.68 90.7 174.11 91.18 174.54 91.64 174.97 92.08 175.4 92.51 175.87 92.96 176.34 93.4 176.81 93.82 177.28 94.23 177.75 94.63 178.22 95.01 178.73 95.41 179.24 95.8 179.75 96.17 180.26 96.54 180.77 96.89 181.28 97.23 181.79 97.56 182.3 97.87 182.84 98.21 183.39 98.53 183.94 98.84 184.49 99.15 185.04 99.44 185.59 99.72 186.13 100 186.68 100.27 187.23 100.53 187.78 100.78 188.33 101.03 188.91 101.28 189.5 101.53 190.09 101.77 190.68 102.01 191.26 102.24 191.85 102.46 192.44 102.68 193.03 102.89 193.61 103.09 194.2 103.29 194.79 103.49 195.38 103.67 195.96 103.86 196.55 104.04 197.14 104.22 197.73 104.39 198.31 104.55 198.9 104.72 199.49 104.88 200.08 105.03 200.66 105.19 201.25 105.34 201.84 105.48 202.43 105.62 203.01 105.76 203.6 105.9 204.19 106.03 204.78 106.16 205.36 106.29 205.95 106.42 206.54 106.54 207.17 106.67 207.67 106.77"/><path d="M32.32 116.36 32.95 116.35 33.57 116.34 34.19 116.32 34.81 116.31 35.44 116.3 36.06 116.29 36.68 116.28 37.3 116.27 37.93 116.25 38.55 116.24 39.17 116.23 39.79 116.22 40.42 116.2 41.04 116.19 41.66 116.18 42.28 116.16 42.91 116.15 43.53 116.14 44.15 116.12 44.77 116.11 45.4 116.09 46.02 116.08 46.64 116.07 47.26 116.05 47.89 116.04 48.51 116.02 49.13 116.01 49.75 115.99 50.38 115.98 51 115.96 51.62 115.94 52.24 115.93 52.87 115.91 53.49 115.89 54.11 115.88 54.73 115.86 55.36 115.84 55.98 115.83 56.6 115.81 57.22 115.79 57.85 115.77 58.47 115.75 59.09 115.74 59.71 115.72 60.34 115.7 60.96 115.68 61.58 115.66 62.2 115.64 62.83 115.62 63.45 115.6 64.07 115.58 64.69 115.55 65.32 115.53 65.94 115.51 66.56 115.49 67.18 115.47 67.81 115.44 68.43 115.42 69.05 115.4 69.67 115.37 70.3 115.35 70.92 115.32 71.54 115.3 72.16 115.27 72.79 115.25 73.41 115.22 74.03 115.19 74.65 115.17 75.28 115.14 75.9 115.11 76.52 115.08 77.14 115.05 77.77 115.02 78.39 114.99 79.01 114.96 79.63 114.93 80.26 114.9 80.88 114.87 81.5 114.83 82.12 114.8 82.75 114.76 83.37 114.73 83.99 114.69 84.61 114.66 85.24 114.62 85.86 114.58 86.48 114.54 87.1 114.5 87.73 114.46 88.35 114.42 88.97 114.38 89.59 114.34 90.22 114.29 90.84 114.25 91.46 114.2 92.08 114.16 92.71 114.11 93.33 114.06 93.95 114.01 94.57 113.96 95.2 113.91 95.82 113.86 96.44 113.8 97.06 113.75 97.68 113.69 98.31 113.63 98.93 113.57 99.55 113.51 100.17 113.45 100.8 113.38 101.42 113.31 102.04 113.25 102.66 113.18 103.29 113.1 103.91 113.03 104.53 112.95 105.15 112.88 105.78 112.8 106.4 112.71 107.02 112.63 107.64 112.54 108.27 112.45 108.89 112.36 109.51 112.26 110.13 112.16 110.76 112.06 111.38 111.95 112 111.84 112.62 111.73 113.25 111.61 113.87 111.49 114.49 111.37 115.11 111.24 115.74 111.1 116.36 110.96 116.98 110.81 117.6 110.66 118.23 110.51 118.85 110.34 119.47 110.17 120.09 109.99 120.72 109.8 121.34 109.61 121.96 109.41 122.58 109.19 123.21 108.97 123.83 108.73 124.45 108.49 125.07 108.23 125.7 107.95 126.24 107.7 126.79 107.44 127.33 107.16 127.88 106.87 128.42 106.56 128.96 106.24 129.51 105.9 130.05 105.53 130.6 105.15 131.14 104.74 131.69 104.31 132.15 103.92 132.62 103.5 133.09 103.06 133.56 102.6 134.02 102.1 134.49 101.58 134.88 101.11 135.27 100.62 135.66 100.1 136.05 99.54 136.43 98.95 136.82 98.33 137.13 97.8 137.45 97.24 137.76 96.65 138.07 96.03 138.38 95.37 138.69 94.67 138.92 94.12 139.16 93.54 139.39 92.93 139.62 92.29 139.86 91.62 140.09 90.92 140.32 90.17 140.56 89.39 140.79 88.56 140.95 87.98 141.1 87.37 141.26 86.75 141.41 86.09 141.57 85.41 141.73 84.7 141.88 83.96 142.04 83.19 142.19 82.38 142.35 81.53 142.5 80.64 142.66 79.7 142.81 78.72 142.97 77.69 143.13 76.6 143.28 75.46 143.36 74.86 143.44 74.25 143.51 73.62 143.59 72.97 143.67 72.3 143.75 71.61 143.83 70.9 143.9 70.17 143.98 69.42 144.06 68.64 144.14 67.83 144.22 67 144.29 66.15 144.37 65.26 144.45 64.34 144.53 63.4 144.6 62.41 144.68 61.39 144.76 60.34 144.84 59.24 144.92 58.1 144.99 56.92 145.07 55.69 145.15 54.41 145.23 53.08 145.3 51.69 145.38 50.24 145.46 48.72 145.54 47.14 145.62 45.48 145.69 43.74 145.77 41.92 145.85 40.01 145.93 38 146 35.89 146.08 33.66 146.16 31.3 146.24 28.81 146.32 26.18"/><path d="M152.1 196.37 152.14 195.41 152.18 194.47 152.22 193.56 152.26 192.66 152.29 191.79 152.33 190.94 152.37 190.11 152.41 189.29 152.45 188.5 152.49 187.72 152.53 186.96 152.57 186.21 152.61 185.49 152.65 184.77 152.69 184.08 152.73 183.39 152.76 182.72 152.8 182.07 152.84 181.43 152.88 180.8 152.92 180.18 152.96 179.58 153.04 178.4 153.12 177.27 153.2 176.18 153.27 175.13 153.35 174.12 153.43 173.14 153.51 172.2 153.59 171.29 153.67 170.41 153.74 169.56 153.82 168.74 153.9 167.94 153.98 167.16 154.06 166.42 154.14 165.69 154.21 164.98 154.29 164.3 154.37 163.64 154.45 162.99 154.53 162.36 154.61 161.75 154.72 160.87 154.84 160.02 154.96 159.21 155.08 158.42 155.19 157.67 155.31 156.94 155.43 156.25 155.55 155.57 155.66 154.92 155.78 154.29 155.9 153.68 156.05 152.91 156.21 152.16 156.37 151.45 156.52 150.76 156.68 150.11 156.84 149.48 156.99 148.87 157.15 148.29 157.35 147.59 157.54 146.93 157.74 146.29 157.93 145.69 158.13 145.1 158.37 144.44 158.6 143.8 158.84 143.2 159.07 142.63 159.34 141.99 159.62 141.38 159.89 140.81 160.17 140.26 160.48 139.67 160.79 139.1 161.11 138.57 161.46 138 161.81 137.47 162.16 136.96 162.56 136.43 162.95 135.92 163.34 135.45 163.77 134.95 164.2 134.49 164.63 134.05 165.1 133.59 165.57 133.16 166.04 132.76 166.51 132.38 167.02 131.98 167.53 131.61 168.04 131.26 168.55 130.93 169.1 130.59 169.65 130.27 170.19 129.96 170.74 129.67 171.29 129.4 171.84 129.13 172.39 128.88 172.97 128.63 173.56 128.39 174.15 128.15 174.74 127.93 175.32 127.72 175.91 127.52 176.5 127.33 177.09 127.14 177.67 126.96 178.26 126.79 178.85 126.63 179.44 126.47 180.02 126.32 180.61 126.17 181.2 126.03 181.79 125.9 182.37 125.77 182.96 125.64 183.55 125.52 184.18 125.39 184.8 125.27 185.43 125.15 186.06 125.04 186.68 124.93 187.31 124.82 187.94 124.72 188.56 124.62 189.19 124.53 189.82 124.43 190.44 124.34 191.07 124.26 191.7 124.17 192.32 124.09 192.95 124.01 193.58 123.93 194.2 123.85 194.83 123.78 195.46 123.71 196.08 123.64 196.71 123.57 197.34 123.5 197.96 123.44 198.59 123.38 199.22 123.31 199.84 123.26 200.47 123.2 201.1 123.14 201.72 123.08 202.35 123.03 202.98 122.98 203.6 122.92 204.23 122.87 204.86 122.82 205.48 122.78 206.11 122.73 206.74 122.68 207.36 122.64 207.67 122.61"/><path d="M32.32 108.38 32.95 108.33 33.57 108.27 34.19 108.22 34.81 108.16 35.44 108.11 36.06 108.05 36.68 107.99 37.3 107.93 37.93 107.88 38.55 107.82 39.17 107.76 39.79 107.69 40.42 107.63 41.04 107.57 41.66 107.51 42.28 107.44 42.91 107.38 43.53 107.31 44.15 107.25 44.77 107.18 45.4 107.11 46.02 107.04 46.64 106.97 47.26 106.9 47.89 106.83 48.51 106.76 49.13 106.69 49.75 106.61 50.38 106.54 51 106.46 51.62 106.39 52.24 106.31 52.87 106.23 53.49 106.15 54.11 106.07 54.73 105.99 55.36 105.91 55.98 105.82 56.6 105.74 57.22 105.65 57.85 105.56 58.47 105.47 59.09 105.38 59.71 105.29 60.34 105.2 60.96 105.11 61.58 105.01 62.2 104.92 62.83 104.82 63.45 104.72 64.07 104.62 64.69 104.52 65.32 104.41 65.94 104.31 66.56 104.2 67.18 104.09 67.81 103.98 68.43 103.87 69.05 103.76 69.67 103.64 70.3 103.52 70.92 103.4 71.54 103.28 72.16 103.16 72.79 103.04 73.41 102.91 74.03 102.78 74.65 102.65 75.28 102.51 75.9 102.38 76.52 102.24 77.14 102.1 77.77 101.96 78.39 101.81 79.01 101.66 79.63 101.51 80.26 101.36 80.88 101.2 81.5 101.04 82.12 100.88 82.75 100.72 83.37 100.55 83.99 100.38 84.61 100.2 85.24 100.02 85.86 99.84 86.48 99.66 87.1 99.47 87.73 99.27 88.35 99.08 88.97 98.88 89.59 98.67 90.22 98.46 90.84 98.25 91.46 98.03 92.08 97.8 92.71 97.58 93.33 97.34 93.95 97.1 94.57 96.86 95.2 96.61 95.82 96.35 96.44 96.09 97.06 95.82 97.68 95.55 98.31 95.27 98.85 95.01 99.4 94.76 99.94 94.49 100.49 94.22 101.03 93.95 101.58 93.67 102.12 93.38 102.66 93.08 103.21 92.78 103.75 92.47 104.3 92.16 104.84 91.83 105.39 91.5 105.93 91.16 106.48 90.81 107.02 90.45 107.57 90.08 108.11 89.7 108.66 89.31 109.2 88.91 109.75 88.5 110.29 88.08 110.83 87.65 111.3 87.27 111.77 86.88 112.24 86.47 112.7 86.06 113.17 85.64 113.64 85.21 114.1 84.76 114.57 84.3 115.04 83.83 115.5 83.35 115.97 82.85 116.44 82.34 116.9 81.82 117.37 81.28 117.76 80.81 118.15 80.34 118.54 79.85 118.93 79.35 119.32 78.84 119.71 78.31 120.09 77.77 120.48 77.21 120.87 76.64 121.26 76.05 121.65 75.45 122.04 74.83 122.43 74.19 122.74 73.66 123.05 73.13 123.36 72.58 123.67 72.01 123.98 71.43 124.3 70.84 124.61 70.23 124.92 69.61 125.23 68.97 125.54 68.31 125.85 67.63 126.16 66.94 126.47 66.23 126.79 65.49 127.02 64.93 127.25 64.35 127.49 63.77 127.72 63.17 127.95 62.55 128.19 61.92 128.42 61.28 128.65 60.62 128.89 59.95 129.12 59.26 129.35 58.56 129.59 57.84 129.82 57.1 130.05 56.34 130.29 55.56 130.52 54.77 130.75 53.95 130.99 53.11 131.22 52.26 131.38 51.67 131.53 51.07 131.69 50.47 131.84 49.85 132 49.22 132.15 48.58 132.31 47.93 132.47 47.26 132.62 46.58 132.78 45.89 132.93 45.19 133.09 44.47 133.24 43.74 133.4 42.99 133.56 42.23 133.71 41.45 133.87 40.66 134.02 39.84 134.18 39.02 134.33 38.17 134.49 37.31 134.64 36.43 134.8 35.53 134.96 34.6 135.11 33.66 135.27 32.7 135.42 31.71 135.58 30.71 135.73 29.67 135.89 28.62 136.05 27.53 136.2 26.43 136.36 25.29 136.51 24.13 136.59 23.53"/><path d="M164.04 196.34 164.16 195.73 164.28 195.14 164.44 194.36 164.59 193.6 164.75 192.86 164.91 192.13 165.06 191.41 165.22 190.71 165.38 190.02 165.53 189.34 165.69 188.68 165.85 188.02 166 187.38 166.16 186.76 166.32 186.14 166.47 185.53 166.63 184.94 166.79 184.35 166.98 183.64 167.18 182.94 167.37 182.25 167.57 181.58 167.77 180.92 167.96 180.28 168.16 179.65 168.35 179.03 168.55 178.42 168.74 177.83 168.94 177.25 169.14 176.68 169.37 176.01 169.61 175.35 169.84 174.71 170.08 174.09 170.31 173.47 170.55 172.87 170.78 172.29 171.02 171.71 171.25 171.15 171.53 170.51 171.8 169.89 172.07 169.28 172.35 168.68 172.62 168.1 172.9 167.53 173.17 166.97 173.44 166.43 173.76 165.82 174.07 165.23 174.38 164.66 174.7 164.09 175.01 163.55 175.32 163.01 175.64 162.49 175.99 161.91 176.34 161.35 176.69 160.81 177.05 160.28 177.4 159.76 177.75 159.25 178.1 158.76 178.5 158.22 178.89 157.7 179.28 157.2 179.67 156.7 180.06 156.22 180.45 155.75 180.85 155.29 181.28 154.8 181.71 154.32 182.14 153.86 182.57 153.4 183 152.96 183.43 152.53 183.86 152.11 184.33 151.66 184.8 151.23 185.27 150.8 185.74 150.39 186.21 149.99 186.68 149.59 187.15 149.21 187.62 148.84 188.13 148.44 188.64 148.06 189.15 147.68 189.66 147.31 190.17 146.96 190.68 146.61 191.19 146.27 191.7 145.94 192.2 145.62 192.75 145.28 193.3 144.94 193.85 144.62 194.4 144.3 194.95 144 195.49 143.7 196.04 143.4 196.59 143.11 197.14 142.83 197.69 142.56 198.24 142.29 198.78 142.03 199.33 141.77 199.88 141.52 200.43 141.27 201.02 141.02 201.6 140.77 202.19 140.52 202.78 140.28 203.37 140.04 203.95 139.81 204.54 139.59 205.13 139.37 205.72 139.15 206.3 138.94 206.89 138.73 207.48 138.53 207.67 138.46"/><path d="M32.32 100.41 32.95 100.31 33.57 100.21 34.19 100.11 34.81 100.01 35.44 99.91 36.06 99.81 36.68 99.71 37.3 99.6 37.93 99.5 38.55 99.39 39.17 99.28 39.79 99.17 40.42 99.06 41.04 98.95 41.66 98.84 42.28 98.72 42.91 98.61 43.53 98.49 44.15 98.37 44.77 98.25 45.4 98.13 46.02 98.01 46.64 97.88 47.26 97.76 47.89 97.63 48.51 97.5 49.13 97.37 49.75 97.24 50.38 97.1 51 96.97 51.62 96.83 52.24 96.69 52.87 96.55 53.49 96.41 54.11 96.26 54.73 96.12 55.36 95.97 55.98 95.82 56.6 95.67 57.22 95.51 57.85 95.35 58.47 95.19 59.09 95.03 59.71 94.87 60.34 94.7 60.96 94.54 61.58 94.37 62.2 94.19 62.83 94.02 63.45 93.84 64.07 93.66 64.69 93.48 65.32 93.29 65.94 93.1 66.56 92.91 67.18 92.72 67.81 92.52 68.43 92.32 69.05 92.12 69.67 91.91 70.3 91.7 70.92 91.48 71.54 91.27 72.16 91.05 72.79 90.82 73.41 90.6 74.03 90.36 74.65 90.13 75.28 89.89 75.9 89.65 76.52 89.4 77.14 89.15 77.77 88.89 78.39 88.63 79.01 88.37 79.63 88.09 80.26 87.82 80.88 87.54 81.5 87.25 82.05 87 82.59 86.74 83.13 86.48 83.68 86.21 84.22 85.94 84.77 85.67 85.31 85.39 85.86 85.1 86.4 84.81 86.95 84.51 87.49 84.21 88.04 83.91 88.58 83.6 89.13 83.28 89.67 82.96 90.22 82.63 90.76 82.29 91.3 81.95 91.85 81.6 92.39 81.25 92.94 80.89 93.48 80.52 94.03 80.14 94.57 79.76 95.12 79.37 95.66 78.97 96.21 78.56 96.75 78.14 97.3 77.72 97.84 77.28 98.31 76.9 98.77 76.52 99.24 76.12 99.71 75.72 100.17 75.31 100.64 74.9 101.11 74.47 101.58 74.04 102.04 73.6 102.51 73.15 102.98 72.69 103.44 72.22 103.91 71.74 104.38 71.25 104.84 70.75 105.31 70.24 105.78 69.72 106.24 69.18 106.71 68.64 107.1 68.18 107.49 67.71 107.88 67.22 108.27 66.73 108.66 66.24 109.05 65.73 109.43 65.21 109.82 64.68 110.21 64.14 110.6 63.59 110.99 63.03 111.38 62.45 111.77 61.87 112.16 61.27 112.55 60.66 112.94 60.03 113.32 59.4 113.64 58.88 113.95 58.35 114.26 57.81 114.57 57.26 114.88 56.7 115.19 56.13 115.5 55.55 115.81 54.96 116.13 54.36 116.44 53.74 116.75 53.12 117.06 52.48 117.37 51.83 117.68 51.17 117.99 50.49 118.3 49.8 118.62 49.1 118.93 48.38 119.24 47.65 119.47 47.09 119.71 46.52 119.94 45.94 120.17 45.35 120.41 44.75 120.64 44.15 120.87 43.53 121.11 42.9 121.34 42.26 121.57 41.61 121.81 40.95 122.04 40.28 122.27 39.6 122.51 38.9 122.74 38.19 122.97 37.47 123.21 36.74 123.44 35.99 123.67 35.23 123.91 34.45 124.14 33.66 124.37 32.86 124.61 32.04 124.84 31.2 125.07 30.35 125.31 29.48 125.46 28.89 125.62 28.29 125.77 27.69 125.93 27.08 126.09 26.45 126.24 25.82 126.4 25.19 126.55 24.54 126.71 23.88 126.79 23.55"/><path d="M175.95 196.44 176.19 195.77 176.42 195.11 176.66 194.46 176.89 193.82 177.13 193.19 177.36 192.57 177.6 191.96 177.83 191.37 178.07 190.78 178.3 190.2 178.54 189.63 178.77 189.07 179.01 188.51 179.28 187.88 179.55 187.26 179.83 186.65 180.1 186.05 180.38 185.46 180.65 184.88 180.92 184.31 181.2 183.75 181.47 183.2 181.75 182.65 182.06 182.05 182.37 181.45 182.69 180.87 183 180.29 183.31 179.73 183.63 179.17 183.94 178.63 184.25 178.09 184.57 177.57 184.88 177.05 185.23 176.48 185.59 175.93 185.94 175.38 186.29 174.84 186.64 174.31 187 173.8 187.35 173.29 187.7 172.79 188.05 172.3 188.44 171.76 188.84 171.24 189.23 170.73 189.62 170.22 190.01 169.73 190.4 169.24 190.79 168.77 191.19 168.3 191.58 167.84 192.01 167.35 192.44 166.87 192.87 166.39 193.3 165.92 193.73 165.47 194.16 165.02 194.59 164.58 195.02 164.15 195.46 163.72 195.93 163.27 196.4 162.83 196.87 162.39 197.34 161.97 197.81 161.55 198.28 161.14 198.75 160.73 199.22 160.34 199.69 159.95 200.16 159.57 200.63 159.19 201.13 158.8 201.64 158.41 202.15 158.02 202.66 157.65 203.17 157.28 203.68 156.92 204.19 156.57 204.7 156.22 205.21 155.88 205.72 155.54 206.23 155.21 206.74 154.89 207.24 154.57 207.67 154.3"/><path d="M32.32 92.43 32.95 92.29 33.57 92.15 34.19 92.01 34.81 91.87 35.44 91.72 36.06 91.57 36.68 91.42 37.3 91.27 37.93 91.12 38.55 90.97 39.17 90.81 39.79 90.65 40.42 90.49 41.04 90.33 41.66 90.17 42.28 90 42.91 89.84 43.53 89.67 44.15 89.5 44.77 89.32 45.4 89.15 46.02 88.97 46.64 88.79 47.26 88.61 47.89 88.43 48.51 88.24 49.13 88.05 49.75 87.86 50.38 87.67 51 87.47 51.62 87.27 52.24 87.07 52.87 86.87 53.49 86.66 54.11 86.46 54.73 86.24 55.36 86.03 55.98 85.81 56.6 85.59 57.22 85.37 57.85 85.14 58.47 84.92 59.09 84.68 59.71 84.45 60.34 84.21 60.96 83.97 61.58 83.72 62.2 83.47 62.83 83.22 63.45 82.96 64.07 82.7 64.69 82.44 65.32 82.17 65.94 81.9 66.56 81.62 67.18 81.34 67.81 81.06 68.35 80.8 68.9 80.55 69.44 80.29 69.98 80.03 70.53 79.76 71.07 79.49 71.62 79.21 72.16 78.94 72.71 78.65 73.25 78.37 73.8 78.08 74.34 77.78 74.89 77.48 75.43 77.18 75.98 76.87 76.52 76.56 77.07 76.24 77.61 75.92 78.15 75.59 78.7 75.26 79.24 74.92 79.79 74.58 80.33 74.23 80.88 73.88 81.42 73.52 81.97 73.15 82.51 72.78 83.06 72.4 83.6 72.02 84.15 71.63 84.69 71.23 85.24 70.83 85.78 70.42 86.32 70 86.87 69.58 87.41 69.14 87.96 68.7 88.43 68.32 88.89 67.93 89.36 67.53 89.83 67.13 90.29 66.72 90.76 66.31 91.23 65.89 91.69 65.46 92.16 65.02 92.63 64.58 93.09 64.13 93.56 63.67 94.03 63.21 94.49 62.73 94.96 62.25 95.43 61.76 95.9 61.26 96.36 60.76 96.83 60.24 97.3 59.71 97.76 59.18 98.23 58.63 98.62 58.17 99.01 57.7 99.4 57.22 99.79 56.74 100.17 56.25 100.56 55.75 100.95 55.24 101.34 54.72 101.73 54.2 102.12 53.66 102.51 53.12 102.9 52.57 103.29 52.01 103.68 51.44 104.07 50.86 104.45 50.27 104.84 49.66 105.23 49.05 105.62 48.43 106.01 47.79 106.32 47.28 106.63 46.76 106.94 46.22 107.26 45.69 107.57 45.14 107.88 44.58 108.19 44.02 108.5 43.45 108.81 42.87 109.12 42.28 109.43 41.68 109.75 41.07 110.06 40.45 110.37 39.82 110.68 39.18 110.99 38.53 111.3 37.87 111.61 37.2 111.92 36.51 112.24 35.82 112.55 35.11 112.86 34.39 113.17 33.66 113.4 33.11 113.64 32.54 113.87 31.97 114.1 31.39 114.34 30.81 114.57 30.21 114.8 29.61 115.04 29 115.27 28.38 115.5 27.75 115.74 27.11 115.97 26.47 116.2 25.81 116.44 25.15 116.67 24.47 116.9 23.79 116.98 23.56"/><path d="M187.86 196.49 188.13 195.94 188.41 195.4 188.72 194.8 189.03 194.2 189.35 193.61 189.66 193.03 189.97 192.46 190.29 191.9 190.6 191.35 190.91 190.8 191.23 190.27 191.54 189.74 191.85 189.22 192.17 188.7 192.52 188.14 192.87 187.58 193.22 187.03 193.58 186.48 193.93 185.95 194.28 185.43 194.63 184.91 194.99 184.4 195.34 183.9 195.69 183.41 196.04 182.92 196.43 182.39 196.83 181.86 197.22 181.35 197.61 180.84 198 180.34 198.39 179.85 198.78 179.37 199.18 178.9 199.57 178.43 199.96 177.97 200.39 177.47 200.82 176.98 201.25 176.5 201.68 176.02 202.11 175.56 202.54 175.1 202.98 174.64 203.41 174.2 203.84 173.76 204.27 173.33 204.7 172.91 205.13 172.49 205.6 172.04 206.07 171.6 206.54 171.17 207.01 170.74 207.48 170.32 207.67 170.15"/><path d="M32.32 84.46 32.95 84.28 33.57 84.09 34.19 83.9 34.81 83.72 35.44 83.53 36.06 83.33 36.68 83.14 37.3 82.94 37.93 82.74 38.55 82.54 39.17 82.34 39.79 82.13 40.42 81.92 41.04 81.71 41.66 81.5 42.28 81.28 42.91 81.07 43.53 80.84 44.15 80.62 44.77 80.4 45.4 80.17 46.02 79.94 46.64 79.7 47.26 79.46 47.89 79.22 48.51 78.98 49.13 78.73 49.75 78.49 50.38 78.23 51 77.98 51.62 77.72 52.24 77.46 52.87 77.19 53.49 76.92 54.11 76.65 54.73 76.37 55.36 76.09 55.98 75.81 56.6 75.52 57.15 75.27 57.69 75.01 58.24 74.75 58.78 74.48 59.32 74.22 59.87 73.95 60.41 73.67 60.96 73.4 61.5 73.12 62.05 72.83 62.59 72.54 63.14 72.25 63.68 71.96 64.23 71.66 64.77 71.36 65.32 71.05 65.86 70.74 66.41 70.42 66.95 70.1 67.49 69.78 68.04 69.45 68.58 69.12 69.13 68.79 69.67 68.44 70.22 68.1 70.76 67.75 71.31 67.39 71.85 67.03 72.4 66.67 72.94 66.29 73.49 65.92 74.03 65.54 74.58 65.15 75.12 64.76 75.66 64.36 76.21 63.95 76.75 63.54 77.3 63.12 77.84 62.7 78.39 62.27 78.93 61.83 79.4 61.45 79.87 61.07 80.33 60.68 80.8 60.28 81.27 59.88 81.73 59.47 82.2 59.06 82.67 58.64 83.13 58.22 83.6 57.79 84.07 57.35 84.54 56.91 85 56.46 85.47 56 85.94 55.54 86.4 55.07 86.87 54.6 87.34 54.11 87.8 53.62 88.27 53.12 88.74 52.62 89.2 52.1 89.67 51.58 90.14 51.05 90.6 50.51 91.07 49.96 91.46 49.5 91.85 49.03 92.24 48.55 92.63 48.07 93.02 47.58 93.41 47.08 93.79 46.58 94.18 46.07 94.57 45.55 94.96 45.03 95.35 44.49 95.74 43.95 96.13 43.4 96.52 42.85 96.91 42.28 97.3 41.71 97.68 41.13 98.07 40.54 98.46 39.93 98.85 39.33 99.24 38.71 99.63 38.08 100.02 37.44 100.33 36.92 100.64 36.39 100.95 35.86 101.26 35.32 101.58 34.78 101.89 34.22 102.2 33.66 102.51 33.1 102.82 32.52 103.13 31.94 103.44 31.35 103.75 30.75 104.07 30.14 104.38 29.52 104.69 28.9 105 28.26 105.31 27.62 105.62 26.97 105.93 26.3 106.24 25.63 106.56 24.95 106.87 24.26 107.18 23.56"/><path d="M199.76 196.51 200.12 195.97 200.47 195.44 200.82 194.92 201.17 194.4 201.53 193.89 201.88 193.39 202.23 192.89 202.58 192.4 202.98 191.87 203.37 191.34 203.76 190.82 204.15 190.3 204.54 189.8 204.93 189.3 205.33 188.81 205.72 188.32 206.11 187.84 206.5 187.37 206.89 186.9 207.28 186.44 207.67 185.99"/><path d="M32.32 76.48 32.95 76.26 33.57 76.03 34.19 75.8 34.81 75.57 35.44 75.33 36.06 75.09 36.68 74.85 37.3 74.61 37.93 74.36 38.55 74.12 39.17 73.86 39.79 73.61 40.42 73.35 41.04 73.09 41.66 72.83 42.28 72.56 42.91 72.29 43.53 72.02 44.15 71.75 44.77 71.47 45.4 71.18 46.02 70.9 46.56 70.65 47.11 70.39 47.65 70.13 48.2 69.87 48.74 69.61 49.29 69.34 49.83 69.07 50.38 68.8 50.92 68.52 51.47 68.24 52.01 67.96 52.56 67.68 53.1 67.39 53.64 67.09 54.19 66.8 54.73 66.5 55.28 66.2 55.82 65.89 56.37 65.58 56.91 65.27 57.46 64.95 58 64.63 58.55 64.31 59.09 63.98 59.64 63.65 60.18 63.31 60.73 62.97 61.27 62.63 61.81 62.28 62.36 61.93 62.9 61.57 63.45 61.21 63.99 60.84 64.54 60.47 65.08 60.09 65.63 59.71 66.17 59.32 66.72 58.93 67.26 58.54 67.81 58.13 68.35 57.73 68.9 57.31 69.44 56.89 69.98 56.47 70.53 56.04 71.07 55.6 71.54 55.22 72.01 54.84 72.47 54.45 72.94 54.06 73.41 53.66 73.88 53.26 74.34 52.85 74.81 52.44 75.28 52.02 75.74 51.59 76.21 51.17 76.68 50.73 77.14 50.29 77.61 49.84 78.08 49.39 78.54 48.94 79.01 48.47 79.48 48 79.94 47.52 80.41 47.04 80.88 46.55 81.34 46.06 81.81 45.55 82.28 45.04 82.75 44.52 83.21 44 83.68 43.47 84.15 42.93 84.61 42.38 85 41.92 85.39 41.45 85.78 40.97 86.17 40.49 86.56 40.01 86.95 39.52 87.34 39.02 87.73 38.51 88.11 38 88.5 37.48 88.89 36.96 89.28 36.43 89.67 35.89 90.06 35.34 90.45 34.79 90.84 34.23 91.23 33.66 91.62 33.09 92 32.51 92.39 31.91 92.78 31.32 93.17 30.71 93.56 30.09 93.95 29.47 94.34 28.83 94.65 28.32 94.96 27.8 95.27 27.27 95.58 26.74 95.9 26.21 96.21 25.66 96.52 25.11 96.83 24.55 97.14 23.99 97.37 23.56"/><path d="M32.32 68.51 32.95 68.24 33.57 67.97 34.19 67.69 34.81 67.42 35.44 67.14 36.06 66.85 36.68 66.57 37.23 66.32 37.77 66.06 38.32 65.8 38.86 65.54 39.41 65.28 39.95 65.01 40.49 64.74 41.04 64.47 41.58 64.2 42.13 63.92 42.67 63.64 43.22 63.36 43.76 63.08 44.31 62.79 44.85 62.5 45.4 62.2 45.94 61.91 46.49 61.6 47.03 61.3 47.58 60.99 48.12 60.68 48.66 60.37 49.21 60.05 49.75 59.73 50.3 59.41 50.84 59.08 51.39 58.75 51.93 58.41 52.48 58.07 53.02 57.73 53.57 57.39 54.11 57.03 54.66 56.68 55.2 56.32 55.75 55.96 56.29 55.59 56.83 55.22 57.38 54.84 57.92 54.46 58.47 54.08 59.01 53.69 59.56 53.29 60.1 52.89 60.65 52.49 61.19 52.08 61.74 51.67 62.28 51.25 62.83 50.82 63.37 50.39 63.92 49.95 64.38 49.58 64.85 49.19 65.32 48.81 65.78 48.42 66.25 48.02 66.72 47.62 67.18 47.22 67.65 46.81 68.12 46.39 68.58 45.98 69.05 45.55 69.52 45.12 69.98 44.69 70.45 44.25 70.92 43.81 71.39 43.36 71.85 42.9 72.32 42.44 72.79 41.98 73.25 41.51 73.72 41.03 74.19 40.55 74.65 40.06 75.12 39.56 75.59 39.06 76.05 38.55 76.52 38.04 76.99 37.51 77.45 36.99 77.92 36.45 78.39 35.91 78.78 35.45 79.17 34.99 79.56 34.52 79.94 34.05 80.33 33.57 80.72 33.08 81.11 32.59 81.5 32.1 81.89 31.6 82.28 31.09 82.67 30.58 83.06 30.06 83.45 29.54 83.83 29 84.22 28.47 84.61 27.92 85 27.37 85.39 26.82 85.78 26.25 86.17 25.68 86.56 25.1 86.95 24.52 87.34 23.92 87.57 23.56"/><path d="M32.32 60.53 32.87 60.26 33.41 59.99 33.96 59.71 34.5 59.43 35.05 59.15 35.59 58.86 36.14 58.57 36.68 58.28 37.23 57.99 37.77 57.69 38.32 57.4 38.86 57.09 39.41 56.79 39.95 56.48 40.49 56.17 41.04 55.85 41.58 55.54 42.13 55.22 42.67 54.89 43.22 54.56 43.76 54.23 44.31 53.9 44.85 53.56 45.4 53.22 45.94 52.88 46.49 52.53 47.03 52.18 47.58 51.82 48.12 51.46 48.66 51.1 49.21 50.73 49.75 50.36 50.3 49.98 50.84 49.6 51.39 49.22 51.93 48.83 52.48 48.43 53.02 48.04 53.57 47.63 54.11 47.23 54.66 46.82 55.2 46.4 55.75 45.98 56.29 45.55 56.83 45.12 57.38 44.69 57.85 44.31 58.31 43.93 58.78 43.54 59.25 43.15 59.71 42.76 60.18 42.36 60.65 41.96 61.11 41.55 61.58 41.14 62.05 40.72 62.52 40.3 62.98 39.88 63.45 39.45 63.92 39.02 64.38 38.58 64.85 38.14 65.32 37.69 65.78 37.23 66.25 36.78 66.72 36.31 67.18 35.84 67.65 35.37 68.12 34.89 68.58 34.4 69.05 33.91 69.52 33.42 69.98 32.91 70.45 32.4 70.92 31.89 71.39 31.37 71.85 30.84 72.32 30.31 72.79 29.77 73.25 29.22 73.64 28.76 74.03 28.29 74.42 27.82 74.81 27.35 75.2 26.87 75.59 26.38 75.98 25.89 76.37 25.39 76.75 24.89 77.14 24.39 77.53 23.87 77.77 23.56"/><path d="M32.32 52.56 32.87 52.25 33.41 51.94 33.96 51.62 34.5 51.3 35.05 50.98 35.59 50.66 36.14 50.33 36.68 50 37.23 49.67 37.77 49.33 38.32 48.99 38.86 48.64 39.41 48.3 39.95 47.95 40.49 47.59 41.04 47.24 41.58 46.87 42.13 46.51 42.67 46.14 43.22 45.77 43.76 45.39 44.31 45.01 44.85 44.63 45.4 44.24 45.94 43.85 46.49 43.45 47.03 43.05 47.58 42.64 48.12 42.23 48.66 41.82 49.21 41.4 49.75 40.98 50.3 40.55 50.84 40.12 51.39 39.68 51.86 39.3 52.32 38.92 52.79 38.53 53.26 38.15 53.72 37.75 54.19 37.35 54.66 36.95 55.12 36.55 55.59 36.14 56.06 35.72 56.52 35.31 56.99 34.88 57.46 34.46 57.92 34.03 58.39 33.59 58.86 33.15 59.32 32.71 59.79 32.26 60.26 31.81 60.73 31.35 61.19 30.88 61.66 30.42 62.13 29.94 62.59 29.46 63.06 28.98 63.53 28.49 63.99 28 64.46 27.5 64.93 26.99 65.39 26.48 65.86 25.96 66.33 25.44 66.79 24.91 67.26 24.38 67.73 23.84 68.04 23.47"/><path d="M32.32 44.58 32.87 44.23 33.41 43.88 33.96 43.53 34.5 43.17 35.05 42.82 35.59 42.45 36.14 42.08 36.68 41.71 37.23 41.34 37.77 40.96 38.32 40.58 38.86 40.2 39.41 39.81 39.95 39.41 40.49 39.02 41.04 38.62 41.58 38.21 42.13 37.8 42.67 37.39 43.22 36.97 43.76 36.55 44.31 36.12 44.85 35.69 45.4 35.26 45.94 34.82 46.41 34.44 46.88 34.05 47.34 33.66 47.81 33.27 48.28 32.88 48.74 32.48 49.21 32.08 49.68 31.67 50.14 31.26 50.61 30.85 51.08 30.43 51.54 30.01 52.01 29.58 52.48 29.15 52.94 28.72 53.41 28.28 53.88 27.84 54.35 27.39 54.81 26.94 55.28 26.48 55.75 26.02 56.21 25.56 56.68 25.09 57.15 24.61 57.61 24.13 58.08 23.65 58.24 23.48"/><path d="M32.32 36.61 32.87 36.22 33.41 35.83 33.96 35.44 34.5 35.05 35.05 34.65 35.59 34.25 36.14 33.84 36.68 33.43 37.23 33.02 37.77 32.6 38.32 32.17 38.86 31.75 39.41 31.32 39.95 30.88 40.49 30.44 40.96 30.06 41.43 29.68 41.9 29.29 42.36 28.9 42.83 28.51 43.3 28.11 43.76 27.71 44.23 27.3 44.7 26.89 45.16 26.48 45.63 26.07 46.1 25.65 46.56 25.22 47.03 24.8 47.5 24.37 47.96 23.93 48.43 23.49"/><path d="M32.32 28.63 32.87 28.21 33.41 27.78 33.96 27.35 34.5 26.92 35.05 26.48 35.52 26.1 35.98 25.72 36.45 25.34 36.92 24.95 37.38 24.56 37.85 24.16 38.32 23.77 38.63 23.5"/></g><path d="M43.46 27.49 43.88 27.9 44.31 28.31 44.73 28.73 45.15 29.14 45.58 29.56 46 29.97 46.42 30.38 46.85 30.8 47.27 31.21 47.7 31.62 48.12 32.04 48.54 32.45 48.97 32.86 49.39 33.28 49.81 33.69 50.24 34.11 50.66 34.52 51.08 34.93 51.51 35.35 51.93 35.76 52.35 36.17 52.77 36.59 53.2 37 53.62 37.41 54.04 37.83 54.46 38.24 54.89 38.65 55.31 39.07 55.73 39.48 56.15 39.9 56.58 40.31 57 40.72 57.42 41.14 57.84 41.55 58.27 41.96 58.69 42.38 59.11 42.79 59.53 43.2 59.95 43.62 60.37 44.03 60.8 44.44 61.22 44.86 61.64 45.27 62.06 45.69 62.48 46.1 62.9 46.51 63.32 46.93 63.74 47.34 64.16 47.75 64.58 48.17 65 48.58 65.43 48.99 65.85 49.41 66.27 49.82 66.69 50.24 67.11 50.65 67.53 51.06 67.95 51.48 68.36 51.89 68.78 52.3 69.2 52.72 69.62 53.13 70.04 53.54 70.46 53.96 70.88 54.37 71.3 54.78 71.72 55.2 72.14 55.61 72.55 56.03 72.97 56.44 73.39 56.85 73.81 57.27 74.23 57.68 74.64 58.09 75.06 58.51 75.48 58.92 75.89 59.33 76.31 59.75 76.73 60.16 77.14 60.58 77.56 60.99 77.98 61.4 78.39 61.82 78.81 62.23 79.22 62.64 79.64 63.06 80.05 63.47 80.47 63.88 80.88 64.3 81.3 64.71 81.71 65.12 82.13 65.54 82.54 65.95 82.95 66.37 83.37 66.78 83.78 67.19 84.19 67.61 84.61 68.02 85.02 68.43 85.43 68.85 85.84 69.26 86.25 69.67 86.66 70.09 87.07 70.5 87.48 70.92 87.89 71.33 88.3 71.74 88.71 72.16 89.12 72.57 89.53 72.98 89.94 73.4 90.35 73.81 90.75 74.22 91.16 74.64 91.57 75.05 91.97 75.46 92.38 75.88 92.78 76.29 93.19 76.71 93.59 77.12 93.99 77.53 94.4 77.95 94.8 78.36 95.2 78.77 95.6 79.19 96 79.6 96.4 80.01 96.8 80.43 97.2 80.84 97.6 81.26 98 81.67 98.4 82.08 98.79 82.5 99.19 82.91 99.58 83.32 99.97 83.74 100.37 84.15 100.76 84.56 101.15 84.98 101.54 85.39 101.93 85.8 102.32 86.22 102.7 86.63 103.09 87.05 103.48 87.46 103.86 87.87 104.24 88.29 104.62 88.7 105 89.11 105.38 89.53 105.76 89.94 106.13 90.35 106.51 90.77 106.88 91.18 107.25 91.59 107.62 92.01 107.99 92.42 108.35 92.84 108.71 93.25 109.08 93.66 109.43 94.08 109.79 94.49 110.15 94.9 110.5 95.32 110.85 95.73 111.19 96.14 111.54 96.56 111.88 96.97 112.22 97.39 112.55 97.8 112.88 98.21 113.21 98.63 113.54 99.04 113.86 99.45 114.18 99.87 114.49 100.28 114.8 100.69 115.1 101.11 115.4 101.52 115.69 101.93 115.98 102.35 116.26 102.76 116.54 103.18 116.81 103.59 117.08 104 117.33 104.42 117.58 104.83 117.83 105.24 118.06 105.66 118.29 106.07 118.51 106.48 118.72 106.9 118.93 107.31 119.12 107.73 119.3 108.14 119.48 108.55 119.64 108.97 119.79 109.38 119.93 109.79 120.06 110.21 120.18 110.62 120.29 111.03 120.38 111.45 120.46 111.86 120.53 112.27 120.59 112.69 120.63 113.1 120.66 113.52 120.68 113.93 120.68 114.34 120.67 114.76 120.64 115.17 120.61 115.58 120.56 116 120.49 116.41 120.42 116.82 120.33 117.24 120.23 117.65 120.12 118.07 119.99 118.48 119.86 118.89 119.71 119.31 119.55 119.72 119.38 120.13 119.2 120.55 119.01 120.96 118.81 121.37 118.61 121.79 118.39 122.2 118.17 122.61 117.93 123.03 117.69 123.44 117.44 123.86 117.19 124.27 116.93 124.68 116.66 125.1 116.39 125.51 116.11 125.92 115.82 126.34 115.53 126.75 115.23 127.16 114.93 127.58 114.62 127.99 114.31 128.41 114 128.82 113.68 129.23 113.36 129.65 113.03 130.06 112.7 130.47 112.37 130.89 112.03 131.3 111.69 131.71 111.35 132.13 111 132.54 110.65 132.95 110.3 133.37 109.95 133.78 109.59 134.2 109.23 134.61 108.87 135.02 108.51 135.44 108.15 135.85 107.78 136.26 107.41 136.68 107.04 137.09 106.67 137.5 106.3 137.92 105.92 138.33 105.55 138.74 105.17 139.16 104.79 139.57 104.41 139.99 104.03 140.4 103.64 140.81 103.26 141.23 102.87 141.64 102.49 142.05 102.1 142.47 101.71 142.88 101.32 143.29 100.93 143.71 100.54 144.12 100.15 144.54 99.75 144.95 99.36 145.36 98.97 145.78 98.57 146.19 98.17 146.6 97.78 147.02 97.38 147.43 96.98 147.84 96.58 148.26 96.18 148.67 95.78 149.08 95.38 149.5 94.98 149.91 94.57 150.33 94.17 150.74 93.77 151.15 93.36 151.57 92.96 151.98 92.56 152.39 92.15 152.81 91.74 153.22 91.34 153.63 90.93 154.05 90.52 154.46 90.12 154.88 89.71 155.29 89.3 155.7 88.89 156.12 88.48 156.53 88.07 156.94 87.66 157.36 87.25 157.77 86.84 158.18 86.43 158.6 86.02 159.01 85.61 159.42 85.2 159.84 84.79 160.25 84.37 160.67 83.96 161.08 83.55 161.49 83.14 161.91 82.72 162.32 82.31 162.73 81.89 163.15 81.48 163.56 81.07 163.97 80.65 164.39 80.24 164.8 79.82 165.22 79.41 165.63 78.99 166.04 78.58 166.46 78.16 166.87 77.74 167.28 77.33 167.7 76.91 168.11 76.49 168.52 76.08 168.94 75.66 169.35 75.24 169.76 74.83 170.18 74.41 170.59 73.99 171.01 73.57 171.42 73.16 171.83 72.74 172.25 72.32 172.66 71.9 173.07 71.48 173.49 71.06 173.9 70.64 174.31 70.23 174.73 69.81 175.14 69.39 175.56 68.97 175.97 68.55 176.38 68.13 176.8 67.71 177.21 67.29 177.62 66.87 178.04 66.45 178.45 66.03 178.86 65.61 179.28 65.19 179.69 64.77 180.1 64.35 180.52 63.93 180.93 63.51 181.35 63.09 181.76 62.66 182.17 62.24 182.59 61.82 183 61.4 183.41 60.98 183.83 60.56 184.24 60.14 184.65 59.72 185.07 59.29 185.48 58.87 185.89 58.45 186.31 58.03 186.72 57.61 187.14 57.18 187.55 56.76 187.96 56.34 188.38 55.92 188.79 55.5 189.2 55.07 189.62 54.65 190.03 54.23 190.44 53.81 190.86 53.38 191.27 52.96 191.69 52.54 192.1 52.11 192.51" fill="none" stroke="#960000" stroke-width="1.8"/></g><g font-family="Liberation Serif, serif" font-size="11.5" text-anchor="middle" fill="#000"><text x="46.3" y="40.3">9</text><text x="48.2" y="48.8">8</text><text x="54.5" y="52.7">7</text><text x="60.5" y="58.4">6</text><text x="67.2" y="64.2">5</text><text x="72.4" y="73.4">4</text><text x="77.5" y="81.0">3</text><text x="77.5" y="94.0">2</text><text x="112.0" y="93.0">1</text><text x="140.0" y="94.9">0</text><text x="162.0" y="73.7">-1</text><text x="176.0" y="63.0">-2</text><text x="184.0" y="50.7">-3</text><text x="195.4" y="49.1">-4</text><text x="200.0" y="39.4">-5</text><text x="164.4" y="138.9">0</text><text x="97.0" y="137.4">-1</text><text x="84.3" y="148.7">-2</text><text x="79.6" y="158.9">-3</text><text x="67.6" y="165.8">-4</text><text x="55.9" y="170.2">-5</text><text x="57.4" y="180.6">-6</text><text x="44.8" y="182.6">-7</text><text x="42.6" y="190.5">-8</text><text x="180.1" y="160.7">1</text><text x="195.4" y="168.7">2</text><text x="200.9" y="181.4">3</text></g><rect x="36.5" y="29.5" width="167.0" height="161.0" fill="none" stroke="#333" stroke-width="1"/><path d="M36.5 190.5 v2.8 M36.5 190.5 h-2.8 M57.4 190.5 v2.8 M36.5 170.4 h-2.8 M78.2 190.5 v2.8 M36.5 150.2 h-2.8 M99.1 190.5 v2.8 M36.5 130.1 h-2.8 M120.0 190.5 v2.8 M36.5 110.0 h-2.8 M140.9 190.5 v2.8 M36.5 89.9 h-2.8 M161.8 190.5 v2.8 M36.5 69.8 h-2.8 M182.6 190.5 v2.8 M36.5 49.6 h-2.8 M203.5 190.5 v2.8 M36.5 29.5 h-2.8" stroke="#333" stroke-width="1" fill="none"/><g font-family="Liberation Serif, serif" font-size="10.5" fill="#111"><text x="36.5" y="203.6" text-anchor="middle">-4</text><text x="30.6" y="193.1" text-anchor="end">-4</text><text x="57.4" y="203.6" text-anchor="middle">-3</text><text x="30.6" y="173.0" text-anchor="end">-3</text><text x="78.2" y="203.6" text-anchor="middle">-2</text><text x="30.6" y="152.8" text-anchor="end">-2</text><text x="99.1" y="203.6" text-anchor="middle">-1</text><text x="30.6" y="132.7" text-anchor="end">-1</text><text x="120.0" y="203.6" text-anchor="middle">0</text><text x="30.6" y="112.6" text-anchor="end">0</text><text x="140.9" y="203.6" text-anchor="middle">1</text><text x="30.6" y="92.5" text-anchor="end">1</text><text x="161.8" y="203.6" text-anchor="middle">2</text><text x="30.6" y="72.3" text-anchor="end">2</text><text x="182.6" y="203.6" text-anchor="middle">3</text><text x="30.6" y="52.2" text-anchor="end">3</text><text x="203.5" y="203.6" text-anchor="middle">4</text><text x="30.6" y="32.1" text-anchor="end">4</text></g><text y="218.6" font-family="Liberation Serif, serif" font-size="11.5" fill="#111"><tspan x="103.6" font-style="italic">i</tspan><tspan x="107.6" dy="3" font-size="8" textLength="11.4" lengthAdjust="spacingAndGlyphs"><tspan font-style="italic">d</tspan>_L</tspan><tspan x="119.6" dy="-3" textLength="16.2" lengthAdjust="spacingAndGlyphs">(A)</tspan></text><text transform="translate(13.8,0) rotate(-90)" y="0" font-family="Liberation Serif, serif" font-size="11.5" fill="#111"><tspan x="-127.4" font-style="italic">i</tspan><tspan x="-123.2" dy="3" font-size="8" textLength="12.2" lengthAdjust="spacingAndGlyphs"><tspan font-style="italic">q</tspan>_L</tspan><tspan x="-108" dy="-3" textLength="14" lengthAdjust="spacingAndGlyphs">(A)</tspan></text><text x="131" y="237.2" text-anchor="middle" font-family="Liberation Serif, serif" font-weight="bold" font-size="12.5" fill="#111"><tspan font-weight="normal">(</tspan>a<tspan font-weight="normal">)</tspan></text><rect x="35.5" y="12" width="108.4" height="17" fill="#fff" stroke="#bbb" stroke-width="0.8"/><path d="M37.6 20.4 H58.4" stroke="#9a0000" stroke-width="1.5"/><text x="62.9" y="24.6" font-family="Liberation Serif, serif" font-size="13" fill="#111" textLength="78.2" lengthAdjust="spacingAndGlyphs">MTPA trajectory</text><rect x="218.5" y="30.5" width="18.0" height="160.5" fill="url(#cbg)" stroke="#333" stroke-width="0.8"/><path d="M236.5 182.1 h3 M236.5 166.0 h3 M236.5 149.9 h3 M236.5 133.9 h3 M236.5 117.8 h3 M236.5 101.7 h3 M236.5 85.6 h3 M236.5 69.6 h3 M236.5 53.5 h3 M236.5 37.4 h3" stroke="#444" stroke-width="1"/><g font-family="Liberation Serif, serif" font-size="11.6" fill="#111"><text x="245.3" y="186.3">-8</text><text x="245.3" y="170.2">-6</text><text x="245.3" y="154.1">-4</text><text x="245.3" y="138.1">-2</text><text x="244.3" y="122.0">0</text><text x="244.3" y="105.9">2</text><text x="244.3" y="89.8">4</text><text x="244.3" y="73.8">6</text><text x="244.3" y="57.7">8</text><text x="244.3" y="41.6">10</text></g><text x="222.6" y="22.2" font-family="Liberation Serif, serif" font-size="11" fill="#111"><tspan font-style="italic">T</tspan><tspan font-size="8.5" dx="-0.8" dy="3.4">e</tspan></text><path d="M330.7 13.5 V188.5 M356.9 13.5 V188.5 M383.2 13.5 V188.5 M409.4 13.5 V188.5 M435.6 13.5 V188.5 M461.8 13.5 V188.5 M488.1 13.5 V188.5 M514.3 13.5 V188.5 M304.5 166.6 H540.5 M304.5 144.8 H540.5 M304.5 122.9 H540.5 M304.5 101.0 H540.5 M304.5 79.1 H540.5 M304.5 57.2 H540.5 M304.5 35.4 H540.5" stroke="#b0b0b0" stroke-width="0.8" stroke-dasharray="1 1.2" fill="none"/><g clip-path="url(#rc)"><g fill="#ff0000"><rect x="305.89" y="168.18" width="3.6" height="3.6"/><rect x="310.70" y="166.03" width="3.6" height="3.6"/><rect x="315.39" y="163.88" width="3.6" height="3.6"/><rect x="319.97" y="161.73" width="3.6" height="3.6"/><rect x="324.42" y="159.58" width="3.6" height="3.6"/><rect x="328.75" y="157.43" width="3.6" height="3.6"/><rect x="332.96" y="155.29" width="3.6" height="3.6"/><rect x="337.04" y="153.15" width="3.6" height="3.6"/><rect x="341.01" y="151.01" width="3.6" height="3.6"/><rect x="344.85" y="148.88" width="3.6" height="3.6"/><rect x="348.58" y="146.75" width="3.6" height="3.6"/><rect x="352.18" y="144.62" width="3.6" height="3.6"/><rect x="355.66" y="142.50" width="3.6" height="3.6"/><rect x="359.02" y="140.38" width="3.6" height="3.6"/><rect x="362.26" y="138.27" width="3.6" height="3.6"/><rect x="365.37" y="136.16" width="3.6" height="3.6"/><rect x="368.37" y="134.07" width="3.6" height="3.6"/><rect x="371.25" y="131.98" width="3.6" height="3.6"/><rect x="374.00" y="129.90" width="3.6" height="3.6"/><rect x="376.64" y="127.82" width="3.6" height="3.6"/><rect x="379.15" y="125.77" width="3.6" height="3.6"/><rect x="381.55" y="123.72" width="3.6" height="3.6"/><rect x="383.82" y="121.69" width="3.6" height="3.6"/><rect x="385.98" y="119.68" width="3.6" height="3.6"/><rect x="388.01" y="117.69" width="3.6" height="3.6"/><rect x="389.93" y="115.73" width="3.6" height="3.6"/><rect x="391.73" y="113.80" width="3.6" height="3.6"/><rect x="393.41" y="111.91" width="3.6" height="3.6"/><rect x="394.98" y="110.07" width="3.6" height="3.6"/><rect x="396.43" y="108.28" width="3.6" height="3.6"/><rect x="397.77" y="106.56" width="3.6" height="3.6"/><rect x="399.01" y="104.93" width="3.6" height="3.6"/><rect x="400.14" y="103.41" width="3.6" height="3.6"/><rect x="401.17" y="102.03" width="3.6" height="3.6"/><rect x="402.12" y="100.82" width="3.6" height="3.6"/><rect x="403.00" y="99.82" width="3.6" height="3.6"/><rect x="403.82" y="99.07" width="3.6" height="3.6"/><rect x="404.60" y="98.62" width="3.6" height="3.6"/><rect x="405.38" y="98.49" width="3.6" height="3.6"/><rect x="406.18" y="98.69" width="3.6" height="3.6"/><rect x="407.02" y="99.20" width="3.6" height="3.6"/><rect x="407.94" y="100.00" width="3.6" height="3.6"/><rect x="408.93" y="101.04" width="3.6" height="3.6"/><rect x="410.02" y="102.29" width="3.6" height="3.6"/><rect x="411.22" y="103.70" width="3.6" height="3.6"/><rect x="412.53" y="105.25" width="3.6" height="3.6"/><rect x="413.96" y="106.90" width="3.6" height="3.6"/><rect x="415.50" y="108.63" width="3.6" height="3.6"/><rect x="417.16" y="110.43" width="3.6" height="3.6"/><rect x="418.94" y="112.29" width="3.6" height="3.6"/><rect x="420.85" y="114.19" width="3.6" height="3.6"/><rect x="422.87" y="116.12" width="3.6" height="3.6"/><rect x="425.01" y="118.09" width="3.6" height="3.6"/><rect x="427.28" y="120.08" width="3.6" height="3.6"/><rect x="429.66" y="122.10" width="3.6" height="3.6"/><rect x="432.17" y="124.13" width="3.6" height="3.6"/><rect x="434.80" y="126.18" width="3.6" height="3.6"/><rect x="437.55" y="128.24" width="3.6" height="3.6"/><rect x="440.42" y="130.31" width="3.6" height="3.6"/><rect x="443.41" y="132.39" width="3.6" height="3.6"/><rect x="446.53" y="134.49" width="3.6" height="3.6"/><rect x="449.77" y="136.59" width="3.6" height="3.6"/><rect x="453.12" y="138.69" width="3.6" height="3.6"/><rect x="456.60" y="140.80" width="3.6" height="3.6"/><rect x="460.21" y="142.92" width="3.6" height="3.6"/><rect x="463.93" y="145.05" width="3.6" height="3.6"/><rect x="467.77" y="147.17" width="3.6" height="3.6"/><rect x="471.74" y="149.30" width="3.6" height="3.6"/><rect x="475.83" y="151.44" width="3.6" height="3.6"/><rect x="480.04" y="153.58" width="3.6" height="3.6"/><rect x="484.37" y="155.72" width="3.6" height="3.6"/><rect x="488.82" y="157.86" width="3.6" height="3.6"/><rect x="493.40" y="160.01" width="3.6" height="3.6"/><rect x="498.09" y="162.16" width="3.6" height="3.6"/><rect x="502.91" y="164.31" width="3.6" height="3.6"/><rect x="507.85" y="166.46" width="3.6" height="3.6"/><rect x="512.91" y="168.61" width="3.6" height="3.6"/><rect x="518.09" y="170.77" width="3.6" height="3.6"/><rect x="523.40" y="172.93" width="3.6" height="3.6"/><rect x="528.82" y="175.09" width="3.6" height="3.6"/><rect x="534.37" y="177.25" width="3.6" height="3.6"/></g><g fill="#00ff00"><circle cx="307.69" cy="188.50" r="2.15"/><circle cx="312.50" cy="186.31" r="2.15"/><circle cx="317.19" cy="184.12" r="2.15"/><circle cx="321.77" cy="181.94" r="2.15"/><circle cx="326.22" cy="179.75" r="2.15"/><circle cx="330.55" cy="177.56" r="2.15"/><circle cx="334.76" cy="175.38" r="2.15"/><circle cx="338.84" cy="173.19" r="2.15"/><circle cx="342.81" cy="171.00" r="2.15"/><circle cx="346.65" cy="168.81" r="2.15"/><circle cx="350.38" cy="166.62" r="2.15"/><circle cx="353.98" cy="164.44" r="2.15"/><circle cx="357.46" cy="162.25" r="2.15"/><circle cx="360.82" cy="160.06" r="2.15"/><circle cx="364.06" cy="157.88" r="2.15"/><circle cx="367.17" cy="155.69" r="2.15"/><circle cx="370.17" cy="153.50" r="2.15"/><circle cx="373.05" cy="151.31" r="2.15"/><circle cx="375.80" cy="149.12" r="2.15"/><circle cx="378.44" cy="146.94" r="2.15"/><circle cx="380.95" cy="144.75" r="2.15"/><circle cx="383.35" cy="142.56" r="2.15"/><circle cx="385.62" cy="140.38" r="2.15"/><circle cx="387.78" cy="138.19" r="2.15"/><circle cx="389.81" cy="136.00" r="2.15"/><circle cx="391.73" cy="133.81" r="2.15"/><circle cx="393.53" cy="131.62" r="2.15"/><circle cx="395.21" cy="129.44" r="2.15"/><circle cx="396.78" cy="127.25" r="2.15"/><circle cx="398.23" cy="125.06" r="2.15"/><circle cx="399.57" cy="122.88" r="2.15"/><circle cx="400.81" cy="120.69" r="2.15"/><circle cx="401.94" cy="118.50" r="2.15"/><circle cx="402.97" cy="116.31" r="2.15"/><circle cx="403.92" cy="114.12" r="2.15"/><circle cx="404.80" cy="111.94" r="2.15"/><circle cx="405.62" cy="109.75" r="2.15"/><circle cx="406.40" cy="107.56" r="2.15"/><circle cx="407.18" cy="105.38" r="2.15"/><circle cx="407.98" cy="103.19" r="2.15"/><circle cx="408.82" cy="101.00" r="2.15"/><circle cx="409.74" cy="98.81" r="2.15"/><circle cx="410.73" cy="96.62" r="2.15"/><circle cx="411.82" cy="94.44" r="2.15"/><circle cx="413.02" cy="92.25" r="2.15"/><circle cx="414.33" cy="90.06" r="2.15"/><circle cx="415.76" cy="87.88" r="2.15"/><circle cx="417.30" cy="85.69" r="2.15"/><circle cx="418.96" cy="83.50" r="2.15"/><circle cx="420.74" cy="81.31" r="2.15"/><circle cx="422.65" cy="79.12" r="2.15"/><circle cx="424.67" cy="76.94" r="2.15"/><circle cx="426.81" cy="74.75" r="2.15"/><circle cx="429.08" cy="72.56" r="2.15"/><circle cx="431.46" cy="70.38" r="2.15"/><circle cx="433.97" cy="68.19" r="2.15"/><circle cx="436.60" cy="66.00" r="2.15"/><circle cx="439.35" cy="63.81" r="2.15"/><circle cx="442.22" cy="61.63" r="2.15"/><circle cx="445.21" cy="59.44" r="2.15"/><circle cx="448.33" cy="57.25" r="2.15"/><circle cx="451.57" cy="55.06" r="2.15"/><circle cx="454.92" cy="52.87" r="2.15"/><circle cx="458.40" cy="50.69" r="2.15"/><circle cx="462.01" cy="48.50" r="2.15"/><circle cx="465.73" cy="46.31" r="2.15"/><circle cx="469.57" cy="44.12" r="2.15"/><circle cx="473.54" cy="41.94" r="2.15"/><circle cx="477.63" cy="39.75" r="2.15"/><circle cx="481.84" cy="37.56" r="2.15"/><circle cx="486.17" cy="35.38" r="2.15"/><circle cx="490.62" cy="33.19" r="2.15"/><circle cx="495.20" cy="31.00" r="2.15"/><circle cx="499.89" cy="28.81" r="2.15"/><circle cx="504.71" cy="26.62" r="2.15"/><circle cx="509.65" cy="24.44" r="2.15"/><circle cx="514.71" cy="22.25" r="2.15"/><circle cx="519.89" cy="20.06" r="2.15"/><circle cx="525.20" cy="17.88" r="2.15"/><circle cx="530.62" cy="15.69" r="2.15"/><circle cx="536.17" cy="13.50" r="2.15"/></g></g><rect x="305.3" y="13.5" width="71.8" height="16.7" fill="#fff" stroke="#888" stroke-width="0.8"/><path d="M309.3 22.6 H316.3 M321.5 22.6 H328.6" stroke="#ff0000" stroke-width="1.6"/><rect x="317.1" y="20.8" width="3.6" height="3.6" fill="#ff0000"/><path d="M342.9 22.6 H349.4 M354.8 22.6 H362.1" stroke="#00ff00" stroke-width="1.6"/><circle cx="352.1" cy="22.6" r="2.15" fill="#00ff00"/><g font-family="Liberation Serif, serif" font-size="11" fill="#111"><text y="26.2"><tspan x="328.9" font-style="italic">i</tspan><tspan x="332" dy="3.0" font-size="9" textLength="10.2" lengthAdjust="spacingAndGlyphs"><tspan font-style="italic">d</tspan>_L</tspan></text><text y="26.2"><tspan x="362.4" font-style="italic">i</tspan><tspan x="365" dy="3.0" font-size="9" textLength="10.7" lengthAdjust="spacingAndGlyphs"><tspan font-style="italic">q</tspan>_L</tspan></text></g><path d="M304.5 13.5 H540.5" stroke="#444" stroke-width="1" fill="none"/><path d="M540.5 13.5 V188.5" stroke="#777" stroke-width="1" fill="none"/><path d="M304.5 13.0 V188.5 H541.0" stroke="#222" stroke-width="1.3" fill="none"/><path d="M304.5 188.5 v2.8 M330.7 188.5 v2.8 M356.9 188.5 v2.8 M383.2 188.5 v2.8 M409.4 188.5 v2.8 M435.6 188.5 v2.8 M461.8 188.5 v2.8 M488.1 188.5 v2.8 M514.3 188.5 v2.8 M540.5 188.5 v2.8 M304.5 188.5 h-3 M304.5 166.6 h-3 M304.5 144.8 h-3 M304.5 122.9 h-3 M304.5 101.0 h-3 M304.5 79.1 h-3 M304.5 57.2 h-3 M304.5 35.4 h-3 M304.5 13.5 h-3" stroke="#222" stroke-width="1.2"/><g font-family="Liberation Serif, serif" font-size="11.6" fill="#111"><text x="304.5" y="202.2" text-anchor="middle">-8</text><text x="330.7" y="202.2" text-anchor="middle">-6</text><text x="356.9" y="202.2" text-anchor="middle">-4</text><text x="383.2" y="202.2" text-anchor="middle">-2</text><text x="409.4" y="202.2" text-anchor="middle">0</text><text x="435.6" y="202.2" text-anchor="middle">2</text><text x="461.8" y="202.2" text-anchor="middle">4</text><text x="488.1" y="202.2" text-anchor="middle">6</text><text x="514.3" y="202.2" text-anchor="middle">8</text><text x="540.5" y="202.2" text-anchor="middle">10</text><text x="299" y="191.5" text-anchor="end">-4</text><text x="299" y="169.6" text-anchor="end">-3</text><text x="299" y="147.8" text-anchor="end">-2</text><text x="299" y="125.9" text-anchor="end">-1</text><text x="299" y="104.0" text-anchor="end">0</text><text x="299" y="82.1" text-anchor="end">1</text><text x="299" y="60.2" text-anchor="end">2</text><text x="299" y="38.4" text-anchor="end">3</text><text x="299" y="16.5" text-anchor="end">4</text></g><text transform="translate(283.7,129.5) rotate(-90)" font-family="Liberation Serif, serif" font-size="12.5" fill="#111">Current (A)</text><text y="218.6" font-family="Liberation Serif, serif" font-size="12" fill="#111"><tspan x="391.6" font-style="italic">T</tspan><tspan x="399" dy="3.4" font-size="8.5">e</tspan><tspan x="404" dy="-3.4" textLength="27.4" lengthAdjust="spacingAndGlyphs">(Nm)</tspan></text><text x="410.5" y="238.1" text-anchor="middle" font-family="Liberation Serif, serif" font-weight="bold" font-size="12.5" fill="#111"><tspan font-weight="normal">(</tspan>b<tspan font-weight="normal">)</tspan></text></svg></body></html>
